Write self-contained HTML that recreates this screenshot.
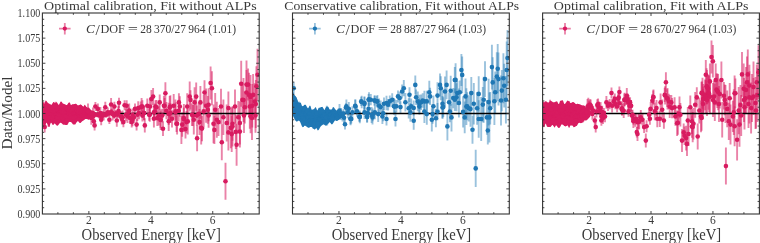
<!DOCTYPE html><html><head><meta charset="utf-8"><style>html,body{margin:0;padding:0;background:#fff;width:760px;height:243px;overflow:hidden}svg{display:block}text{font-family:"Liberation Serif",serif;fill:#383838}.t{opacity:0.999;will-change:opacity}</style></head><body><svg width="760" height="243" viewBox="0 0 760 243"><clipPath id="c0"><rect x="42.4" y="13.0" width="216.8" height="201.0"/></clipPath><g clip-path="url(#c0)"><g stroke="#d81b60" stroke-width="1.9" stroke-opacity="0.55" fill="none"><path d="M42.3 105.8V113.9M41.3 109.9h2.0"/><path d="M42.6 104.0V111.5M41.6 107.8h2.0"/><path d="M43.2 107.0V114.5M42.2 110.8h2.0"/><path d="M43.7 101.9V111.2M42.7 106.6h2.0"/><path d="M44.2 106.2V113.9M43.2 110.0h2.0"/><path d="M44.7 121.6V132.4M43.7 127.0h2.0"/><path d="M45.3 107.5V118.9M44.3 113.2h2.0"/><path d="M45.9 102.5V111.4M44.9 107.0h2.0"/><path d="M46.4 112.5V121.1M45.4 116.8h2.0"/><path d="M46.9 103.5V113.7M45.9 108.6h2.0"/><path d="M47.4 106.3V115.5M46.4 110.9h2.0"/><path d="M47.9 108.1V115.5M46.9 111.8h2.0"/><path d="M48.4 116.3V126.7M47.4 121.5h2.0"/><path d="M48.8 109.5V120.2M47.8 114.9h2.0"/><path d="M49.3 105.6V113.4M48.3 109.5h2.0"/><path d="M49.8 113.6V120.6M48.8 117.1h2.0"/><path d="M50.3 107.7V116.5M49.3 112.1h2.0"/><path d="M50.8 110.0V117.8M49.8 113.9h2.0"/><path d="M51.4 110.4V117.2M50.4 113.8h2.0"/><path d="M51.9 111.0V117.8M50.9 114.4h2.0"/><path d="M52.2 113.5V121.7M51.2 117.6h2.0"/><path d="M52.8 107.1V115.5M51.8 111.3h2.0"/><path d="M53.3 109.3V119.9M52.3 114.6h2.0"/><path d="M53.9 110.9V121.5M52.9 116.2h2.0"/><path d="M54.3 107.0V114.4M53.3 110.7h2.0"/><path d="M54.8 107.1V116.9M53.8 112.0h2.0"/><path d="M55.4 107.8V115.6M54.4 111.7h2.0"/><path d="M55.7 101.8V110.6M54.7 106.2h2.0"/><path d="M56.0 109.5V119.3M55.0 114.4h2.0"/><path d="M56.5 112.8V121.5M55.5 117.1h2.0"/><path d="M57.1 113.8V121.6M56.1 117.7h2.0"/><path d="M57.4 108.5V119.3M56.4 113.9h2.0"/><path d="M57.6 109.3V117.6M56.6 113.5h2.0"/><path d="M58.2 107.7V114.4M57.2 111.0h2.0"/><path d="M58.5 109.4V118.8M57.5 114.1h2.0"/><path d="M58.9 111.3V118.0M57.9 114.7h2.0"/><path d="M59.2 107.9V116.3M58.2 112.1h2.0"/><path d="M59.7 106.5V115.8M58.7 111.1h2.0"/><path d="M60.3 107.5V115.9M59.3 111.7h2.0"/><path d="M60.6 106.9V113.8M59.6 110.3h2.0"/><path d="M61.0 107.8V115.7M60.0 111.7h2.0"/><path d="M61.4 105.7V115.3M60.4 110.5h2.0"/><path d="M61.9 104.8V113.2M60.9 109.0h2.0"/><path d="M62.5 105.1V115.3M61.5 110.2h2.0"/><path d="M62.8 114.6V121.8M61.8 118.2h2.0"/><path d="M63.2 107.7V116.7M62.2 112.2h2.0"/><path d="M63.8 106.5V116.6M62.8 111.5h2.0"/><path d="M64.3 112.0V122.2M63.3 117.1h2.0"/><path d="M64.8 108.7V118.0M63.8 113.4h2.0"/><path d="M65.3 108.7V117.5M64.3 113.1h2.0"/><path d="M65.9 111.3V121.2M64.9 116.2h2.0"/><path d="M66.5 116.7V125.0M65.5 120.9h2.0"/><path d="M67.0 107.4V116.9M66.0 112.2h2.0"/><path d="M67.5 116.9V123.7M66.5 120.3h2.0"/><path d="M67.9 105.0V113.2M66.9 109.1h2.0"/><path d="M68.2 107.1V116.3M67.2 111.7h2.0"/><path d="M68.5 109.4V116.8M67.5 113.1h2.0"/><path d="M69.0 107.1V113.8M68.0 110.5h2.0"/><path d="M69.3 103.0V112.2M68.3 107.6h2.0"/><path d="M69.8 107.3V116.6M68.8 112.0h2.0"/><path d="M70.3 110.7V117.2M69.3 114.0h2.0"/><path d="M70.8 109.8V116.2M69.8 113.0h2.0"/><path d="M71.3 107.6V115.7M70.3 111.7h2.0"/><path d="M71.8 108.0V114.8M70.8 111.4h2.0"/><path d="M72.2 113.9V120.6M71.2 117.3h2.0"/><path d="M72.7 104.3V114.1M71.7 109.2h2.0"/><path d="M73.2 108.4V116.8M72.2 112.6h2.0"/><path d="M73.7 109.2V117.8M72.7 113.5h2.0"/><path d="M73.9 113.8V121.8M72.9 117.8h2.0"/><path d="M74.5 109.3V118.0M73.5 113.6h2.0"/><path d="M74.9 109.5V118.1M73.9 113.8h2.0"/><path d="M75.3 108.0V118.0M74.3 113.0h2.0"/><path d="M76.0 109.9V116.5M75.0 113.2h2.0"/><path d="M76.4 111.9V120.6M75.4 116.3h2.0"/><path d="M77.0 108.0V114.1M76.0 111.0h2.0"/><path d="M77.5 109.5V117.4M76.5 113.5h2.0"/><path d="M77.8 110.5V116.2M76.8 113.3h2.0"/><path d="M78.1 109.3V116.4M77.1 112.9h2.0"/><path d="M78.5 108.7V114.3M77.5 111.5h2.0"/><path d="M79.1 113.5V119.4M78.1 116.4h2.0"/><path d="M79.5 110.1V117.6M78.5 113.8h2.0"/><path d="M79.9 112.0V119.2M78.9 115.6h2.0"/><path d="M80.4 108.9V115.5M79.4 112.2h2.0"/><path d="M80.8 109.4V117.2M79.8 113.3h2.0"/><path d="M81.3 111.4V119.7M80.3 115.5h2.0"/><path d="M81.7 107.0V114.6M80.7 110.8h2.0"/><path d="M82.2 112.1V118.0M81.2 115.1h2.0"/><path d="M82.8 109.9V115.1M81.8 112.5h2.0"/><path d="M83.5 111.9V116.9M82.5 114.4h2.0"/><path d="M84.0 109.7V114.9M83.0 112.3h2.0"/><path d="M84.3 110.3V117.0M83.3 113.7h2.0"/><path d="M84.6 107.4V113.2M83.6 110.3h2.0"/><path d="M85.1 110.4V116.7M84.1 113.5h2.0"/><path d="M85.7 109.3V115.8M84.7 112.6h2.0"/><path d="M86.0 107.1V112.2M85.0 109.6h2.0"/><path d="M86.6 110.8V115.0M85.6 112.9h2.0"/><path d="M86.8 111.2V115.9M85.8 113.5h2.0"/><path d="M87.3 111.3V115.9M86.3 113.6h2.0"/><path d="M87.6 111.3V116.3M86.6 113.8h2.0"/><path d="M88.3 111.5V117.1M87.3 114.3h2.0"/><path d="M88.6 114.7V119.5M87.6 117.1h2.0"/><path d="M89.1 112.7V117.1M88.1 114.9h2.0"/><path d="M89.5 109.7V114.1M88.5 111.9h2.0"/><path d="M89.8 111.3V115.4M88.8 113.4h2.0"/><path d="M89.0 108.4V114.8M88.0 111.6h2.0"/><path d="M90.1 111.5V116.4M89.1 113.9h2.0"/><path d="M91.6 110.0V116.5M90.6 113.2h2.0"/><path d="M93.3 113.0V119.2M92.3 116.1h2.0"/><path d="M95.1 111.9V117.2M94.1 114.5h2.0"/><path d="M97.2 112.3V117.3M96.2 114.8h2.0"/><path d="M99.2 112.6V118.4M98.2 115.5h2.0"/><path d="M100.7 111.0V118.1M99.7 114.6h2.0"/><path d="M101.7 113.4V119.6M100.7 116.5h2.0"/><path d="M102.8 111.0V118.5M101.8 114.8h2.0"/><path d="M105.0 112.0V117.4M104.0 114.7h2.0"/><path d="M106.3 111.2V117.8M105.3 114.5h2.0"/><path d="M107.5 110.7V116.2M106.5 113.5h2.0"/><path d="M109.5 110.1V116.2M108.5 113.2h2.0"/><path d="M111.0 109.2V115.3M110.0 112.3h2.0"/><path d="M112.0 109.2V116.2M111.0 112.7h2.0"/><path d="M114.2 112.6V118.7M113.2 115.6h2.0"/><path d="M115.6 109.9V116.7M114.6 113.3h2.0"/><path d="M117.4 111.3V117.4M116.4 114.4h2.0"/><path d="M95.4 102.1V110.9M93.9 106.5h3.0"/><path d="M97.9 103.4V114.4M96.4 108.9h3.0"/><path d="M105.3 101.7V112.9M103.8 107.3h3.0"/><path d="M111.1 98.1V110.9M109.6 104.5h3.0"/><path d="M114.4 101.8V111.2M112.9 106.5h3.0"/><path d="M119.0 97.8V107.8M117.5 102.8h3.0"/><path d="M124.6 100.2V110.2M123.1 105.2h3.0"/><path d="M126.7 100.3V111.1M125.2 105.7h3.0"/><path d="M129.2 103.5V117.7M127.7 110.6h3.0"/><path d="M135.0 103.5V114.3M133.5 108.9h3.0"/><path d="M138.2 101.2V115.0M136.7 108.1h3.0"/><path d="M140.7 101.4V113.2M139.2 107.3h3.0"/><path d="M142.4 100.2V112.8M140.9 106.5h3.0"/><path d="M147.3 98.5V112.9M145.8 105.7h3.0"/><path d="M151.4 89.9V108.3M149.9 99.1h3.0"/><path d="M153.1 88.1V105.1M151.6 96.6h3.0"/><path d="M155.5 100.2V112.8M154.0 106.5h3.0"/><path d="M159.7 94.6V110.2M158.2 102.4h3.0"/><path d="M164.6 98.1V113.3M163.1 105.7h3.0"/><path d="M165.4 82.3V104.3M163.9 93.3h3.0"/><path d="M170.4 95.2V117.8M168.9 106.5h3.0"/><path d="M173.7 94.0V117.4M172.2 105.7h3.0"/><path d="M88.0 103.5V119.3M86.5 111.4h3.0"/><path d="M93.0 107.4V118.6M91.5 113.0h3.0"/><path d="M100.4 106.9V119.1M98.9 113.0h3.0"/><path d="M103.7 108.9V120.5M102.2 114.7h3.0"/><path d="M107.8 107.6V116.8M106.3 112.2h3.0"/><path d="M112.7 107.4V120.4M111.2 113.9h3.0"/><path d="M118.5 106.4V118.0M117.0 112.2h3.0"/><path d="M122.6 110.4V124.0M121.1 117.2h3.0"/><path d="M127.5 109.9V122.9M126.0 116.4h3.0"/><path d="M132.5 108.4V121.0M131.0 114.7h3.0"/><path d="M137.4 108.4V121.0M135.9 114.7h3.0"/><path d="M144.0 106.1V119.9M142.5 113.0h3.0"/><path d="M149.8 107.7V121.7M148.3 114.7h3.0"/><path d="M153.9 105.6V118.8M152.4 112.2h3.0"/><path d="M158.8 105.5V125.5M157.3 115.5h3.0"/><path d="M168.7 102.8V125.0M167.2 113.9h3.0"/><path d="M91.3 111.2V124.8M89.8 118.0h3.0"/><path d="M93.8 115.8V126.8M92.3 121.3h3.0"/><path d="M94.6 120.3V130.5M93.1 125.4h3.0"/><path d="M101.2 114.1V125.3M99.7 119.7h3.0"/><path d="M109.4 115.3V124.1M107.9 119.7h3.0"/><path d="M116.8 114.3V126.7M115.3 120.5h3.0"/><path d="M121.8 113.0V124.6M120.3 118.8h3.0"/><path d="M123.4 117.0V127.2M121.9 122.1h3.0"/><path d="M131.7 116.6V127.6M130.2 122.1h3.0"/><path d="M132.5 113.1V126.3M131.0 119.7h3.0"/><path d="M136.6 118.7V130.5M135.1 124.6h3.0"/><path d="M144.8 118.3V132.5M143.3 125.4h3.0"/><path d="M153.9 110.2V127.4M152.4 118.8h3.0"/><path d="M160.5 111.3V128.1M159.0 119.7h3.0"/><path d="M163.0 121.3V136.1M161.5 128.7h3.0"/><path d="M168.7 111.7V130.9M167.2 121.3h3.0"/><path d="M172.0 110.2V127.4M170.5 118.8h3.0"/><path d="M175.6 102.4V120.4M174.1 111.4h3.0"/><path d="M178.9 93.2V111.6M177.4 102.4h3.0"/><path d="M179.8 96.2V116.8M178.3 106.5h3.0"/><path d="M176.5 115.5V132.1M175.0 123.8h3.0"/><path d="M182.2 112.4V136.8M180.7 124.6h3.0"/><path d="M183.9 103.9V132.1M182.4 118.0h3.0"/><path d="M186.4 110.9V133.3M184.9 122.1h3.0"/><path d="M187.2 93.2V119.8M185.7 106.5h3.0"/><path d="M189.7 81.6V111.6M188.2 96.6h3.0"/><path d="M190.5 90.3V109.5M189.0 99.9h3.0"/><path d="M192.9 105.0V126.0M191.4 115.5h3.0"/><path d="M193.8 104.9V134.5M192.3 119.7h3.0"/><path d="M194.6 87.2V117.6M193.1 102.4h3.0"/><path d="M196.2 82.5V110.7M194.7 96.6h3.0"/><path d="M198.7 102.7V125.1M197.2 113.9h3.0"/><path d="M199.5 109.1V135.1M198.0 122.1h3.0"/><path d="M200.4 86.1V118.7M198.9 102.4h3.0"/><path d="M201.2 111.4V144.4M199.7 127.9h3.0"/><path d="M203.7 95.1V127.7M202.2 111.4h3.0"/><path d="M204.5 80.3V104.7M203.0 92.5h3.0"/><path d="M206.1 88.6V122.8M204.6 105.7h3.0"/><path d="M207.8 95.9V123.7M206.3 109.8h3.0"/><path d="M208.6 88.3V121.3M207.1 104.8h3.0"/><path d="M208.6 103.3V127.7M207.1 115.5h3.0"/><path d="M213.5 104.4V143.2M212.0 123.8h3.0"/><path d="M215.2 93.1V126.5M213.7 109.8h3.0"/><path d="M216.8 101.7V137.7M215.3 119.7h3.0"/><path d="M218.5 108.1V136.1M217.0 122.1h3.0"/><path d="M221.0 88.7V124.3M219.5 106.5h3.0"/><path d="M223.4 99.4V135.0M221.9 117.2h3.0"/><path d="M226.7 104.6V141.4M225.2 123.0h3.0"/><path d="M228.4 91.5V124.7M226.9 108.1h3.0"/><path d="M230.8 107.6V148.2M229.3 127.9h3.0"/><path d="M232.5 106.8V140.8M231.0 123.8h3.0"/><path d="M235.0 89.5V123.5M233.5 106.5h3.0"/><path d="M238.3 101.1V133.3M236.8 117.2h3.0"/><path d="M239.9 101.6V144.4M238.4 123.0h3.0"/><path d="M242.4 83.8V116.0M240.9 99.9h3.0"/><path d="M244.0 97.9V133.1M242.5 115.5h3.0"/><path d="M244.8 91.2V123.4M243.3 107.3h3.0"/><path d="M246.5 70.0V115.0M245.0 92.5h3.0"/><path d="M249.0 72.7V117.1M247.5 94.9h3.0"/><path d="M249.8 84.3V128.7M248.3 106.5h3.0"/><path d="M250.6 99.5V133.3M249.1 116.4h3.0"/><path d="M252.3 84.0V127.4M250.8 105.7h3.0"/><path d="M253.1 74.1V115.7M251.6 94.9h3.0"/><path d="M254.7 83.3V119.7M253.2 101.5h3.0"/><path d="M255.5 98.2V132.8M254.0 115.5h3.0"/><path d="M181.4 115.9V143.9M179.9 129.9h3.0"/><path d="M185.5 119.6V138.6M184.0 129.1h3.0"/><path d="M197.1 125.2V151.2M195.6 138.2h3.0"/><path d="M202.0 116.0V141.2M200.5 128.6h3.0"/><path d="M214.4 115.9V143.9M212.9 129.9h3.0"/><path d="M221.8 124.3V160.3M220.3 142.3h3.0"/><path d="M228.4 114.4V150.4M226.9 132.4h3.0"/><path d="M231.7 116.1V152.1M230.2 134.1h3.0"/><path d="M232.5 106.6V146.6M231.0 126.6h3.0"/><path d="M236.6 123.8V165.8M235.1 144.8h3.0"/><path d="M235.8 114.9V148.9M234.3 131.9h3.0"/><path d="M239.9 115.6V147.6M238.4 131.6h3.0"/><path d="M225.5 162.8V199.8M224.0 181.3h3.0"/><path d="M210.6 66.5V99.5M209.1 83.0h3.0"/><path d="M211.9 71.2V105.2M210.4 88.2h3.0"/><path d="M241.2 60.8V106.8M239.7 83.8h3.0"/><path d="M246.5 60.6V108.6M245.0 84.6h3.0"/><path d="M248.1 68.6V100.6M246.6 84.6h3.0"/><path d="M256.4 66.2V106.2M254.9 86.2h3.0"/><path d="M257.5 48.7V100.7M256.0 74.7h3.0"/><path d="M243.5 78.0V122.0M242.0 100.0h3.0"/><path d="M250.5 75.0V119.0M249.0 97.0h3.0"/><path d="M255.8 80.0V128.0M254.3 104.0h3.0"/><path d="M252.0 96.0V140.0M250.5 118.0h3.0"/><path d="M144.1 105.6V120.6M142.6 113.1h3.0"/><path d="M149.1 108.8V120.8M147.6 114.8h3.0"/><path d="M154.8 103.4V119.6M153.3 111.5h3.0"/><path d="M157.3 110.2V126.0M155.8 118.1h3.0"/><path d="M160.6 109.4V130.0M159.1 119.7h3.0"/><path d="M162.2 108.8V122.4M160.7 115.6h3.0"/><path d="M166.4 102.1V119.3M164.9 110.7h3.0"/><path d="M170.5 103.3V122.9M169.0 113.1h3.0"/><path d="M175.4 99.5V125.1M173.9 112.3h3.0"/><path d="M178.7 99.8V121.6M177.2 110.7h3.0"/><path d="M183.7 107.5V130.3M182.2 118.9h3.0"/><path d="M187.8 108.3V134.5M186.3 121.4h3.0"/><path d="M191.9 103.5V126.1M190.4 114.8h3.0"/><path d="M196.8 105.4V125.8M195.3 115.6h3.0"/><path d="M177.1 113.2V134.4M175.6 123.8h3.0"/><path d="M141.6 98.1V114.9M140.1 106.5h3.0"/><path d="M149.9 97.8V115.2M148.4 106.5h3.0"/><path d="M156.5 100.0V114.8M155.0 107.4h3.0"/><path d="M163.9 95.7V115.7M162.4 105.7h3.0"/><path d="M169.7 96.0V118.8M168.2 107.4h3.0"/><path d="M121.0 111.2V121.6M119.5 116.4h3.0"/><path d="M125.9 108.4V121.2M124.4 114.8h3.0"/><path d="M130.0 112.1V123.9M128.5 118.0h3.0"/><path d="M134.0 111.5V122.9M132.5 117.2h3.0"/><path d="M139.0 107.0V119.2M137.5 113.1h3.0"/><path d="M142.4 109.6V121.6M140.9 115.6h3.0"/><path d="M118.5 105.6V116.4M117.0 111.0h3.0"/><path d="M128.5 107.2V116.8M127.0 112.0h3.0"/></g><line x1="42.4" y1="113.50" x2="259.2" y2="113.50" stroke="#000" stroke-width="1.5"/><path d="M42.0 99.8 L42.4 99.9 L42.7 100.5 L43.0 101.4 L43.4 102.4 L43.8 103.3 L44.1 103.7 L44.5 103.6 L44.8 102.8 L45.1 101.7 L45.5 100.8 L45.9 100.5 L46.2 100.7 L46.5 101.0 L46.9 101.5 L47.2 102.0 L47.6 102.5 L48.0 103.0 L48.3 103.2 L48.6 103.3 L49.0 103.5 L49.4 103.8 L49.7 104.1 L50.0 104.2 L50.4 104.3 L50.8 104.6 L51.1 104.8 L51.5 104.7 L51.8 104.5 L52.1 104.0 L52.5 103.3 L52.9 102.7 L53.2 102.2 L53.5 101.9 L53.9 101.9 L54.2 102.2 L54.6 102.8 L55.0 103.0 L55.3 103.0 L55.6 102.7 L56.0 102.4 L56.4 102.2 L56.7 102.2 L57.0 102.5 L57.4 103.0 L57.8 103.7 L58.1 104.3 L58.5 104.7 L58.8 104.7 L59.1 104.4 L59.5 103.8 L59.9 103.0 L60.2 102.2 L60.5 101.7 L60.9 101.4 L61.2 101.5 L61.6 101.8 L62.0 102.2 L62.3 102.7 L62.6 103.2 L63.0 103.6 L63.4 103.8 L63.7 103.8 L64.0 103.9 L64.4 104.0 L64.8 104.2 L65.1 104.4 L65.5 104.6 L65.8 104.8 L66.2 104.9 L66.5 105.0 L66.8 105.0 L67.2 104.7 L67.5 104.3 L67.9 103.7 L68.2 103.2 L68.6 102.7 L69.0 102.4 L69.3 102.3 L69.7 102.6 L70.0 103.2 L70.3 104.0 L70.7 104.7 L71.0 105.0 L71.4 104.9 L71.8 104.8 L72.1 104.6 L72.5 104.4 L72.8 104.3 L73.2 104.3 L73.5 104.3 L73.8 104.2 L74.2 104.1 L74.5 104.0 L74.9 103.9 L75.2 103.8 L75.6 103.8 L76.0 103.8 L76.3 103.9 L76.7 104.2 L77.0 104.6 L77.3 105.0 L77.7 105.2 L78.0 105.3 L78.4 105.3 L78.8 105.2 L79.1 105.1 L79.5 104.9 L79.8 104.7 L80.2 104.6 L80.5 104.5 L80.8 104.6 L81.2 104.7 L81.5 105.0 L81.9 105.3 L82.2 105.7 L82.6 106.0 L83.0 106.3 L83.3 106.6 L83.7 106.5 L84.0 105.9 L84.3 105.1 L84.7 104.8 L85.0 105.0 L85.4 105.4 L85.8 105.9 L86.1 106.5 L86.5 107.0 L86.8 107.5 L87.2 107.8 L87.5 108.0 L87.8 108.0 L88.2 107.7 L88.5 107.4 L88.9 107.4 L89.2 107.8 L89.6 108.5 L90.0 109.2 L90.3 109.7 L90.3 117.6 L90.0 117.9 L89.6 118.5 L89.2 119.0 L88.9 119.2 L88.5 119.2 L88.2 118.9 L87.8 118.7 L87.5 118.7 L87.2 118.8 L86.8 118.9 L86.5 118.9 L86.1 118.9 L85.8 119.0 L85.4 119.1 L85.0 119.3 L84.7 119.6 L84.3 119.9 L84.0 120.1 L83.7 120.4 L83.3 120.6 L83.0 120.8 L82.6 121.0 L82.2 121.3 L81.9 121.6 L81.5 122.0 L81.2 122.3 L80.8 122.7 L80.5 122.9 L80.2 123.0 L79.8 123.0 L79.5 122.8 L79.1 122.4 L78.8 122.0 L78.4 121.6 L78.0 121.3 L77.7 121.2 L77.3 121.4 L77.0 121.7 L76.7 122.2 L76.3 122.7 L76.0 123.3 L75.6 123.9 L75.2 124.4 L74.9 124.6 L74.5 124.6 L74.2 124.6 L73.8 124.5 L73.5 124.4 L73.2 124.4 L72.8 124.2 L72.5 123.8 L72.1 123.3 L71.8 122.8 L71.4 122.4 L71.0 122.0 L70.7 121.9 L70.3 121.9 L70.0 121.9 L69.7 121.9 L69.3 121.8 L69.0 121.8 L68.6 122.1 L68.2 122.8 L67.9 123.7 L67.5 124.5 L67.2 124.9 L66.8 124.9 L66.5 124.9 L66.2 124.9 L65.8 124.9 L65.5 124.9 L65.1 124.8 L64.8 124.8 L64.4 124.8 L64.0 124.8 L63.7 124.8 L63.4 124.7 L63.0 124.5 L62.6 124.2 L62.3 123.9 L62.0 123.5 L61.6 123.2 L61.2 123.0 L60.9 122.8 L60.5 122.8 L60.2 122.9 L59.9 123.1 L59.5 123.5 L59.1 123.9 L58.8 124.4 L58.5 124.8 L58.1 125.2 L57.8 125.5 L57.4 125.7 L57.0 125.7 L56.7 125.5 L56.4 125.2 L56.0 124.8 L55.6 124.4 L55.3 124.0 L55.0 123.8 L54.6 123.6 L54.2 123.8 L53.9 124.2 L53.5 124.7 L53.2 125.0 L52.9 125.0 L52.5 124.7 L52.1 124.1 L51.8 123.5 L51.5 123.0 L51.1 122.7 L50.8 122.8 L50.4 123.7 L50.0 125.0 L49.7 126.3 L49.4 127.0 L49.0 127.0 L48.6 126.7 L48.3 126.0 L48.0 125.2 L47.6 124.3 L47.2 123.5 L46.9 122.9 L46.5 122.6 L46.2 122.8 L45.9 123.8 L45.5 125.1 L45.1 126.3 L44.8 127.0 L44.5 127.0 L44.1 126.7 L43.8 126.1 L43.4 125.4 L43.0 124.6 L42.7 123.8 L42.4 123.1 L42.0 122.7Z" fill="#d81b60"/><g fill="#d81b60"><circle cx="42.3" cy="109.9" r="2.3"/><circle cx="42.6" cy="107.8" r="2.3"/><circle cx="43.2" cy="110.8" r="2.3"/><circle cx="43.7" cy="106.6" r="2.3"/><circle cx="44.2" cy="110.0" r="2.3"/><circle cx="44.7" cy="127.0" r="2.3"/><circle cx="45.3" cy="113.2" r="2.3"/><circle cx="45.9" cy="107.0" r="2.3"/><circle cx="46.4" cy="116.8" r="2.3"/><circle cx="46.9" cy="108.6" r="2.3"/><circle cx="47.4" cy="110.9" r="2.3"/><circle cx="47.9" cy="111.8" r="2.3"/><circle cx="48.4" cy="121.5" r="2.3"/><circle cx="48.8" cy="114.9" r="2.3"/><circle cx="49.3" cy="109.5" r="2.3"/><circle cx="49.8" cy="117.1" r="2.3"/><circle cx="50.3" cy="112.1" r="2.3"/><circle cx="50.8" cy="113.9" r="2.3"/><circle cx="51.4" cy="113.8" r="2.3"/><circle cx="51.9" cy="114.4" r="2.3"/><circle cx="52.2" cy="117.6" r="2.3"/><circle cx="52.8" cy="111.3" r="2.3"/><circle cx="53.3" cy="114.6" r="2.3"/><circle cx="53.9" cy="116.2" r="2.3"/><circle cx="54.3" cy="110.7" r="2.3"/><circle cx="54.8" cy="112.0" r="2.3"/><circle cx="55.4" cy="111.7" r="2.3"/><circle cx="55.7" cy="106.2" r="2.3"/><circle cx="56.0" cy="114.4" r="2.3"/><circle cx="56.5" cy="117.1" r="2.3"/><circle cx="57.1" cy="117.7" r="2.3"/><circle cx="57.4" cy="113.9" r="2.3"/><circle cx="57.6" cy="113.5" r="2.3"/><circle cx="58.2" cy="111.0" r="2.3"/><circle cx="58.5" cy="114.1" r="2.3"/><circle cx="58.9" cy="114.7" r="2.3"/><circle cx="59.2" cy="112.1" r="2.3"/><circle cx="59.7" cy="111.1" r="2.3"/><circle cx="60.3" cy="111.7" r="2.3"/><circle cx="60.6" cy="110.3" r="2.3"/><circle cx="61.0" cy="111.7" r="2.3"/><circle cx="61.4" cy="110.5" r="2.3"/><circle cx="61.9" cy="109.0" r="2.3"/><circle cx="62.5" cy="110.2" r="2.3"/><circle cx="62.8" cy="118.2" r="2.3"/><circle cx="63.2" cy="112.2" r="2.3"/><circle cx="63.8" cy="111.5" r="2.3"/><circle cx="64.3" cy="117.1" r="2.3"/><circle cx="64.8" cy="113.4" r="2.3"/><circle cx="65.3" cy="113.1" r="2.3"/><circle cx="65.9" cy="116.2" r="2.3"/><circle cx="66.5" cy="120.9" r="2.3"/><circle cx="67.0" cy="112.2" r="2.3"/><circle cx="67.5" cy="120.3" r="2.3"/><circle cx="67.9" cy="109.1" r="2.3"/><circle cx="68.2" cy="111.7" r="2.3"/><circle cx="68.5" cy="113.1" r="2.3"/><circle cx="69.0" cy="110.5" r="2.3"/><circle cx="69.3" cy="107.6" r="2.3"/><circle cx="69.8" cy="112.0" r="2.3"/><circle cx="70.3" cy="114.0" r="2.3"/><circle cx="70.8" cy="113.0" r="2.3"/><circle cx="71.3" cy="111.7" r="2.3"/><circle cx="71.8" cy="111.4" r="2.3"/><circle cx="72.2" cy="117.3" r="2.3"/><circle cx="72.7" cy="109.2" r="2.3"/><circle cx="73.2" cy="112.6" r="2.3"/><circle cx="73.7" cy="113.5" r="2.3"/><circle cx="73.9" cy="117.8" r="2.3"/><circle cx="74.5" cy="113.6" r="2.3"/><circle cx="74.9" cy="113.8" r="2.3"/><circle cx="75.3" cy="113.0" r="2.3"/><circle cx="76.0" cy="113.2" r="2.3"/><circle cx="76.4" cy="116.3" r="2.3"/><circle cx="77.0" cy="111.0" r="2.3"/><circle cx="77.5" cy="113.5" r="2.3"/><circle cx="77.8" cy="113.3" r="2.3"/><circle cx="78.1" cy="112.9" r="2.3"/><circle cx="78.5" cy="111.5" r="2.3"/><circle cx="79.1" cy="116.4" r="2.3"/><circle cx="79.5" cy="113.8" r="2.3"/><circle cx="79.9" cy="115.6" r="2.3"/><circle cx="80.4" cy="112.2" r="2.3"/><circle cx="80.8" cy="113.3" r="2.3"/><circle cx="81.3" cy="115.5" r="2.3"/><circle cx="81.7" cy="110.8" r="2.3"/><circle cx="82.2" cy="115.1" r="2.3"/><circle cx="82.8" cy="112.5" r="2.3"/><circle cx="83.5" cy="114.4" r="2.3"/><circle cx="84.0" cy="112.3" r="2.3"/><circle cx="84.3" cy="113.7" r="2.3"/><circle cx="84.6" cy="110.3" r="2.3"/><circle cx="85.1" cy="113.5" r="2.3"/><circle cx="85.7" cy="112.6" r="2.3"/><circle cx="86.0" cy="109.6" r="2.3"/><circle cx="86.6" cy="112.9" r="2.3"/><circle cx="86.8" cy="113.5" r="2.3"/><circle cx="87.3" cy="113.6" r="2.3"/><circle cx="87.6" cy="113.8" r="2.3"/><circle cx="88.3" cy="114.3" r="2.3"/><circle cx="88.6" cy="117.1" r="2.3"/><circle cx="89.1" cy="114.9" r="2.3"/><circle cx="89.5" cy="111.9" r="2.3"/><circle cx="89.8" cy="113.4" r="2.3"/><circle cx="89.0" cy="111.6" r="2.3"/><circle cx="90.1" cy="113.9" r="2.3"/><circle cx="91.6" cy="113.2" r="2.3"/><circle cx="93.3" cy="116.1" r="2.3"/><circle cx="95.1" cy="114.5" r="2.3"/><circle cx="97.2" cy="114.8" r="2.3"/><circle cx="99.2" cy="115.5" r="2.3"/><circle cx="100.7" cy="114.6" r="2.3"/><circle cx="101.7" cy="116.5" r="2.3"/><circle cx="102.8" cy="114.8" r="2.3"/><circle cx="105.0" cy="114.7" r="2.3"/><circle cx="106.3" cy="114.5" r="2.3"/><circle cx="107.5" cy="113.5" r="2.3"/><circle cx="109.5" cy="113.2" r="2.3"/><circle cx="111.0" cy="112.3" r="2.3"/><circle cx="112.0" cy="112.7" r="2.3"/><circle cx="114.2" cy="115.6" r="2.3"/><circle cx="115.6" cy="113.3" r="2.3"/><circle cx="117.4" cy="114.4" r="2.3"/><circle cx="95.4" cy="106.5" r="2.3"/><circle cx="97.9" cy="108.9" r="2.3"/><circle cx="105.3" cy="107.3" r="2.3"/><circle cx="111.1" cy="104.5" r="2.3"/><circle cx="114.4" cy="106.5" r="2.3"/><circle cx="119.0" cy="102.8" r="2.3"/><circle cx="124.6" cy="105.2" r="2.3"/><circle cx="126.7" cy="105.7" r="2.3"/><circle cx="129.2" cy="110.6" r="2.3"/><circle cx="135.0" cy="108.9" r="2.3"/><circle cx="138.2" cy="108.1" r="2.3"/><circle cx="140.7" cy="107.3" r="2.3"/><circle cx="142.4" cy="106.5" r="2.3"/><circle cx="147.3" cy="105.7" r="2.3"/><circle cx="151.4" cy="99.1" r="2.3"/><circle cx="153.1" cy="96.6" r="2.3"/><circle cx="155.5" cy="106.5" r="2.3"/><circle cx="159.7" cy="102.4" r="2.3"/><circle cx="164.6" cy="105.7" r="2.3"/><circle cx="165.4" cy="93.3" r="2.3"/><circle cx="170.4" cy="106.5" r="2.3"/><circle cx="173.7" cy="105.7" r="2.3"/><circle cx="88.0" cy="111.4" r="2.3"/><circle cx="93.0" cy="113.0" r="2.3"/><circle cx="100.4" cy="113.0" r="2.3"/><circle cx="103.7" cy="114.7" r="2.3"/><circle cx="107.8" cy="112.2" r="2.3"/><circle cx="112.7" cy="113.9" r="2.3"/><circle cx="118.5" cy="112.2" r="2.3"/><circle cx="122.6" cy="117.2" r="2.3"/><circle cx="127.5" cy="116.4" r="2.3"/><circle cx="132.5" cy="114.7" r="2.3"/><circle cx="137.4" cy="114.7" r="2.3"/><circle cx="144.0" cy="113.0" r="2.3"/><circle cx="149.8" cy="114.7" r="2.3"/><circle cx="153.9" cy="112.2" r="2.3"/><circle cx="158.8" cy="115.5" r="2.3"/><circle cx="168.7" cy="113.9" r="2.3"/><circle cx="91.3" cy="118.0" r="2.3"/><circle cx="93.8" cy="121.3" r="2.3"/><circle cx="94.6" cy="125.4" r="2.3"/><circle cx="101.2" cy="119.7" r="2.3"/><circle cx="109.4" cy="119.7" r="2.3"/><circle cx="116.8" cy="120.5" r="2.3"/><circle cx="121.8" cy="118.8" r="2.3"/><circle cx="123.4" cy="122.1" r="2.3"/><circle cx="131.7" cy="122.1" r="2.3"/><circle cx="132.5" cy="119.7" r="2.3"/><circle cx="136.6" cy="124.6" r="2.3"/><circle cx="144.8" cy="125.4" r="2.3"/><circle cx="153.9" cy="118.8" r="2.3"/><circle cx="160.5" cy="119.7" r="2.3"/><circle cx="163.0" cy="128.7" r="2.3"/><circle cx="168.7" cy="121.3" r="2.3"/><circle cx="172.0" cy="118.8" r="2.3"/><circle cx="175.6" cy="111.4" r="2.3"/><circle cx="178.9" cy="102.4" r="2.3"/><circle cx="179.8" cy="106.5" r="2.3"/><circle cx="176.5" cy="123.8" r="2.3"/><circle cx="182.2" cy="124.6" r="2.3"/><circle cx="183.9" cy="118.0" r="2.3"/><circle cx="186.4" cy="122.1" r="2.3"/><circle cx="187.2" cy="106.5" r="2.3"/><circle cx="189.7" cy="96.6" r="2.3"/><circle cx="190.5" cy="99.9" r="2.3"/><circle cx="192.9" cy="115.5" r="2.3"/><circle cx="193.8" cy="119.7" r="2.3"/><circle cx="194.6" cy="102.4" r="2.3"/><circle cx="196.2" cy="96.6" r="2.3"/><circle cx="198.7" cy="113.9" r="2.3"/><circle cx="199.5" cy="122.1" r="2.3"/><circle cx="200.4" cy="102.4" r="2.3"/><circle cx="201.2" cy="127.9" r="2.3"/><circle cx="203.7" cy="111.4" r="2.3"/><circle cx="204.5" cy="92.5" r="2.3"/><circle cx="206.1" cy="105.7" r="2.3"/><circle cx="207.8" cy="109.8" r="2.3"/><circle cx="208.6" cy="104.8" r="2.3"/><circle cx="208.6" cy="115.5" r="2.3"/><circle cx="213.5" cy="123.8" r="2.3"/><circle cx="215.2" cy="109.8" r="2.3"/><circle cx="216.8" cy="119.7" r="2.3"/><circle cx="218.5" cy="122.1" r="2.3"/><circle cx="221.0" cy="106.5" r="2.3"/><circle cx="223.4" cy="117.2" r="2.3"/><circle cx="226.7" cy="123.0" r="2.3"/><circle cx="228.4" cy="108.1" r="2.3"/><circle cx="230.8" cy="127.9" r="2.3"/><circle cx="232.5" cy="123.8" r="2.3"/><circle cx="235.0" cy="106.5" r="2.3"/><circle cx="238.3" cy="117.2" r="2.3"/><circle cx="239.9" cy="123.0" r="2.3"/><circle cx="242.4" cy="99.9" r="2.3"/><circle cx="244.0" cy="115.5" r="2.3"/><circle cx="244.8" cy="107.3" r="2.3"/><circle cx="246.5" cy="92.5" r="2.3"/><circle cx="249.0" cy="94.9" r="2.3"/><circle cx="249.8" cy="106.5" r="2.3"/><circle cx="250.6" cy="116.4" r="2.3"/><circle cx="252.3" cy="105.7" r="2.3"/><circle cx="253.1" cy="94.9" r="2.3"/><circle cx="254.7" cy="101.5" r="2.3"/><circle cx="255.5" cy="115.5" r="2.3"/><circle cx="181.4" cy="129.9" r="2.3"/><circle cx="185.5" cy="129.1" r="2.3"/><circle cx="197.1" cy="138.2" r="2.3"/><circle cx="202.0" cy="128.6" r="2.3"/><circle cx="214.4" cy="129.9" r="2.3"/><circle cx="221.8" cy="142.3" r="2.3"/><circle cx="228.4" cy="132.4" r="2.3"/><circle cx="231.7" cy="134.1" r="2.3"/><circle cx="232.5" cy="126.6" r="2.3"/><circle cx="236.6" cy="144.8" r="2.3"/><circle cx="235.8" cy="131.9" r="2.3"/><circle cx="239.9" cy="131.6" r="2.3"/><circle cx="225.5" cy="181.3" r="2.3"/><circle cx="210.6" cy="83.0" r="2.3"/><circle cx="211.9" cy="88.2" r="2.3"/><circle cx="241.2" cy="83.8" r="2.3"/><circle cx="246.5" cy="84.6" r="2.3"/><circle cx="248.1" cy="84.6" r="2.3"/><circle cx="256.4" cy="86.2" r="2.3"/><circle cx="257.5" cy="74.7" r="2.3"/><circle cx="243.5" cy="100.0" r="2.3"/><circle cx="250.5" cy="97.0" r="2.3"/><circle cx="255.8" cy="104.0" r="2.3"/><circle cx="252.0" cy="118.0" r="2.3"/><circle cx="144.1" cy="113.1" r="2.3"/><circle cx="149.1" cy="114.8" r="2.3"/><circle cx="154.8" cy="111.5" r="2.3"/><circle cx="157.3" cy="118.1" r="2.3"/><circle cx="160.6" cy="119.7" r="2.3"/><circle cx="162.2" cy="115.6" r="2.3"/><circle cx="166.4" cy="110.7" r="2.3"/><circle cx="170.5" cy="113.1" r="2.3"/><circle cx="175.4" cy="112.3" r="2.3"/><circle cx="178.7" cy="110.7" r="2.3"/><circle cx="183.7" cy="118.9" r="2.3"/><circle cx="187.8" cy="121.4" r="2.3"/><circle cx="191.9" cy="114.8" r="2.3"/><circle cx="196.8" cy="115.6" r="2.3"/><circle cx="177.1" cy="123.8" r="2.3"/><circle cx="141.6" cy="106.5" r="2.3"/><circle cx="149.9" cy="106.5" r="2.3"/><circle cx="156.5" cy="107.4" r="2.3"/><circle cx="163.9" cy="105.7" r="2.3"/><circle cx="169.7" cy="107.4" r="2.3"/><circle cx="121.0" cy="116.4" r="2.3"/><circle cx="125.9" cy="114.8" r="2.3"/><circle cx="130.0" cy="118.0" r="2.3"/><circle cx="134.0" cy="117.2" r="2.3"/><circle cx="139.0" cy="113.1" r="2.3"/><circle cx="142.4" cy="115.6" r="2.3"/><circle cx="118.5" cy="111.0" r="2.3"/><circle cx="128.5" cy="112.0" r="2.3"/></g></g><rect x="42.4" y="13.0" width="216.8" height="201.0" fill="none" stroke="#333" stroke-width="1.1"/><path d="M57.89 214.0v-1.8M57.89 13.0v1.8M73.37 214.0v-1.8M73.37 13.0v1.8M88.86 214.0v-3.0M88.86 13.0v3.0M104.34 214.0v-1.8M104.34 13.0v1.8M119.83 214.0v-1.8M119.83 13.0v1.8M135.31 214.0v-1.8M135.31 13.0v1.8M150.80 214.0v-3.0M150.80 13.0v3.0M166.29 214.0v-1.8M166.29 13.0v1.8M181.77 214.0v-1.8M181.77 13.0v1.8M197.26 214.0v-1.8M197.26 13.0v1.8M212.74 214.0v-3.0M212.74 13.0v3.0M228.23 214.0v-1.8M228.23 13.0v1.8M243.71 214.0v-1.8M243.71 13.0v1.8M42.4 207.72h1.8M259.2 207.72h-1.8M42.4 201.44h1.8M259.2 201.44h-1.8M42.4 195.16h1.8M259.2 195.16h-1.8M42.4 188.88h3.0M259.2 188.88h-3.0M42.4 182.59h1.8M259.2 182.59h-1.8M42.4 176.31h1.8M259.2 176.31h-1.8M42.4 170.03h1.8M259.2 170.03h-1.8M42.4 163.75h3.0M259.2 163.75h-3.0M42.4 157.47h1.8M259.2 157.47h-1.8M42.4 151.19h1.8M259.2 151.19h-1.8M42.4 144.91h1.8M259.2 144.91h-1.8M42.4 138.62h3.0M259.2 138.62h-3.0M42.4 132.34h1.8M259.2 132.34h-1.8M42.4 126.06h1.8M259.2 126.06h-1.8M42.4 119.78h1.8M259.2 119.78h-1.8M42.4 113.50h3.0M259.2 113.50h-3.0M42.4 107.22h1.8M259.2 107.22h-1.8M42.4 100.94h1.8M259.2 100.94h-1.8M42.4 94.66h1.8M259.2 94.66h-1.8M42.4 88.38h3.0M259.2 88.38h-3.0M42.4 82.09h1.8M259.2 82.09h-1.8M42.4 75.81h1.8M259.2 75.81h-1.8M42.4 69.53h1.8M259.2 69.53h-1.8M42.4 63.25h3.0M259.2 63.25h-3.0M42.4 56.97h1.8M259.2 56.97h-1.8M42.4 50.69h1.8M259.2 50.69h-1.8M42.4 44.41h1.8M259.2 44.41h-1.8M42.4 38.13h3.0M259.2 38.13h-3.0M42.4 31.84h1.8M259.2 31.84h-1.8M42.4 25.56h1.8M259.2 25.56h-1.8M42.4 19.28h1.8M259.2 19.28h-1.8" stroke="#333" stroke-width="0.9" fill="none"/><path d="M59.0 28.6h11.6M64.8 22.900000000000002v11.7" stroke="#d81b60" stroke-width="1.8" stroke-opacity="0.55"/><circle cx="64.8" cy="28.6" r="2.15" fill="#d81b60"/><clipPath id="c1"><rect x="292.5" y="13.0" width="216.8" height="201.0"/></clipPath><g clip-path="url(#c1)"><g stroke="#1f77b4" stroke-width="1.9" stroke-opacity="0.45" fill="none"><path d="M292.3 99.9V108.3M291.3 104.1h2.0"/><path d="M292.7 99.8V108.6M291.7 104.2h2.0"/><path d="M293.3 98.5V108.6M292.3 103.6h2.0"/><path d="M293.7 99.1V108.8M292.7 104.0h2.0"/><path d="M294.1 102.6V111.9M293.1 107.2h2.0"/><path d="M294.6 103.9V114.0M293.6 108.9h2.0"/><path d="M294.9 100.2V111.3M293.9 105.8h2.0"/><path d="M295.4 97.4V105.3M294.4 101.4h2.0"/><path d="M295.9 110.0V118.6M294.9 114.3h2.0"/><path d="M296.4 107.2V116.1M295.4 111.6h2.0"/><path d="M296.9 105.0V114.1M295.9 109.5h2.0"/><path d="M297.3 106.0V116.5M296.3 111.2h2.0"/><path d="M297.7 102.2V112.2M296.7 107.2h2.0"/><path d="M298.0 107.0V115.3M297.0 111.2h2.0"/><path d="M298.4 107.4V114.3M297.4 110.8h2.0"/><path d="M298.9 101.4V108.8M297.9 105.1h2.0"/><path d="M299.4 111.7V120.8M298.4 116.2h2.0"/><path d="M299.8 110.3V117.5M298.8 113.9h2.0"/><path d="M300.4 110.1V116.9M299.4 113.5h2.0"/><path d="M301.0 109.7V119.2M300.0 114.5h2.0"/><path d="M301.4 109.9V118.9M300.4 114.4h2.0"/><path d="M301.9 111.3V119.6M300.9 115.5h2.0"/><path d="M302.3 111.3V118.1M301.3 114.7h2.0"/><path d="M302.7 114.0V121.7M301.7 117.9h2.0"/><path d="M303.2 114.2V122.8M302.2 118.5h2.0"/><path d="M303.6 107.7V115.9M302.6 111.8h2.0"/><path d="M304.0 107.0V114.1M303.0 110.6h2.0"/><path d="M304.5 105.4V114.0M303.5 109.7h2.0"/><path d="M305.0 114.7V123.8M304.0 119.2h2.0"/><path d="M305.5 107.3V116.6M304.5 112.0h2.0"/><path d="M306.1 110.7V118.2M305.1 114.5h2.0"/><path d="M306.7 108.7V116.5M305.7 112.6h2.0"/><path d="M307.2 115.8V125.6M306.2 120.7h2.0"/><path d="M307.5 107.7V115.0M306.5 111.3h2.0"/><path d="M307.9 112.7V120.8M306.9 116.7h2.0"/><path d="M308.2 115.3V122.6M307.2 119.0h2.0"/><path d="M308.8 113.9V120.9M307.8 117.4h2.0"/><path d="M309.4 108.7V118.2M308.4 113.5h2.0"/><path d="M309.7 109.5V119.1M308.7 114.3h2.0"/><path d="M310.1 114.9V125.5M309.1 120.2h2.0"/><path d="M310.5 112.8V120.0M309.5 116.4h2.0"/><path d="M311.0 119.1V126.0M310.0 122.6h2.0"/><path d="M311.5 113.2V122.0M310.5 117.6h2.0"/><path d="M311.9 117.4V124.4M310.9 120.9h2.0"/><path d="M312.4 114.9V121.9M311.4 118.4h2.0"/><path d="M312.8 117.1V123.7M311.8 120.4h2.0"/><path d="M313.4 119.2V128.7M312.4 124.0h2.0"/><path d="M313.9 117.0V123.5M312.9 120.2h2.0"/><path d="M314.4 118.3V127.6M313.4 122.9h2.0"/><path d="M314.7 116.3V123.2M313.7 119.7h2.0"/><path d="M315.2 116.1V124.9M314.2 120.5h2.0"/><path d="M315.8 115.2V123.5M314.8 119.4h2.0"/><path d="M316.1 115.1V123.7M315.1 119.4h2.0"/><path d="M316.4 109.8V116.8M315.4 113.3h2.0"/><path d="M316.8 112.9V121.8M315.8 117.3h2.0"/><path d="M317.4 114.8V124.3M316.4 119.5h2.0"/><path d="M318.0 120.4V127.5M317.0 124.0h2.0"/><path d="M318.6 114.6V124.5M317.6 119.5h2.0"/><path d="M319.1 113.9V123.9M318.1 118.9h2.0"/><path d="M319.6 114.6V123.5M318.6 119.0h2.0"/><path d="M320.0 114.7V122.1M319.0 118.4h2.0"/><path d="M320.4 111.1V118.4M319.4 114.8h2.0"/><path d="M320.9 114.3V120.6M319.9 117.5h2.0"/><path d="M321.4 111.5V119.9M320.4 115.7h2.0"/><path d="M321.7 113.0V119.1M320.7 116.1h2.0"/><path d="M322.2 112.9V121.0M321.2 116.9h2.0"/><path d="M322.7 112.3V120.9M321.7 116.6h2.0"/><path d="M323.1 113.8V120.4M322.1 117.1h2.0"/><path d="M323.6 113.7V118.9M322.6 116.3h2.0"/><path d="M324.2 111.9V117.3M323.2 114.6h2.0"/><path d="M324.5 112.6V119.1M323.5 115.8h2.0"/><path d="M324.8 116.4V123.1M323.8 119.7h2.0"/><path d="M325.3 116.0V123.5M324.3 119.8h2.0"/><path d="M325.9 116.8V124.9M324.9 120.8h2.0"/><path d="M326.2 113.3V121.1M325.2 117.2h2.0"/><path d="M326.8 105.8V114.9M325.8 110.3h2.0"/><path d="M327.2 117.2V125.6M326.2 121.4h2.0"/><path d="M327.5 110.0V116.8M326.5 113.4h2.0"/><path d="M328.0 108.3V115.7M327.0 112.0h2.0"/><path d="M328.3 108.7V116.6M327.3 112.7h2.0"/><path d="M328.8 112.6V120.0M327.8 116.3h2.0"/><path d="M329.3 111.7V117.8M328.3 114.7h2.0"/><path d="M329.8 115.1V119.3M328.8 117.2h2.0"/><path d="M330.2 112.6V117.2M329.2 114.9h2.0"/><path d="M330.7 114.8V119.5M329.7 117.2h2.0"/><path d="M330.9 112.0V117.6M329.9 114.8h2.0"/><path d="M331.4 117.3V122.6M330.4 119.9h2.0"/><path d="M331.7 113.8V121.1M330.7 117.5h2.0"/><path d="M332.2 116.1V121.3M331.2 118.7h2.0"/><path d="M332.6 111.2V117.5M331.6 114.3h2.0"/><path d="M333.1 112.1V119.3M332.1 115.7h2.0"/><path d="M333.4 108.0V114.3M332.4 111.2h2.0"/><path d="M333.8 110.0V116.2M332.8 113.1h2.0"/><path d="M334.3 112.6V117.0M333.3 114.8h2.0"/><path d="M334.8 109.5V114.9M333.8 112.2h2.0"/><path d="M335.4 110.9V116.3M334.4 113.6h2.0"/><path d="M335.8 112.9V117.5M334.8 115.2h2.0"/><path d="M336.2 113.5V117.9M335.2 115.7h2.0"/><path d="M336.9 113.6V118.5M335.9 116.1h2.0"/><path d="M337.4 114.2V118.7M336.4 116.4h2.0"/><path d="M337.7 110.9V115.4M336.7 113.2h2.0"/><path d="M338.2 114.9V119.2M337.2 117.0h2.0"/><path d="M338.7 110.4V115.4M337.7 112.9h2.0"/><path d="M339.2 111.8V115.5M338.2 113.6h2.0"/><path d="M339.6 113.3V117.6M338.6 115.5h2.0"/><path d="M339.9 111.2V115.0M338.9 113.1h2.0"/><path d="M340.5 114.5V117.5M339.5 116.0h2.0"/><path d="M340.8 114.1V117.0M339.8 115.6h2.0"/><path d="M341.2 113.7V115.7M340.2 114.7h2.0"/><path d="M341.5 113.0V115.2M340.5 114.1h2.0"/><path d="M342.1 113.3V115.5M341.1 114.4h2.0"/><path d="M293.7 82.2V94.2M292.2 88.2h3.0"/><path d="M346.4 99.6V113.2M344.9 106.4h3.0"/><path d="M348.8 101.9V115.7M347.3 108.8h3.0"/><path d="M355.4 99.4V113.4M353.9 106.4h3.0"/><path d="M361.2 96.7V106.1M359.7 101.4h3.0"/><path d="M364.5 96.7V109.3M363.0 103.0h3.0"/><path d="M368.6 93.9V105.7M367.1 99.8h3.0"/><path d="M368.6 102.6V115.0M367.1 108.8h3.0"/><path d="M374.4 95.5V105.7M372.9 100.6h3.0"/><path d="M376.8 96.0V106.8M375.3 101.4h3.0"/><path d="M367.8 107.0V119.0M366.3 113.0h3.0"/><path d="M359.5 111.9V122.1M358.0 117.0h3.0"/><path d="M350.5 113.1V124.3M349.0 118.7h3.0"/><path d="M351.3 114.6V123.4M349.8 119.0h3.0"/><path d="M359.5 111.8V121.2M358.0 116.5h3.0"/><path d="M364.5 105.7V119.1M363.0 112.4h3.0"/><path d="M367.0 110.6V122.4M365.5 116.5h3.0"/><path d="M372.7 108.6V121.2M371.2 114.9h3.0"/><path d="M344.0 111.6V124.0M342.5 117.8h3.0"/><path d="M345.0 119.1V129.5M343.5 124.3h3.0"/><path d="M345.9 103.3V111.9M344.4 107.6h3.0"/><path d="M350.6 112.2V125.2M349.1 118.7h3.0"/><path d="M355.2 99.6V111.8M353.7 105.7h3.0"/><path d="M359.8 110.5V123.3M358.3 116.9h3.0"/><path d="M361.7 95.7V108.3M360.2 102.0h3.0"/><path d="M364.4 96.4V111.4M362.9 103.9h3.0"/><path d="M367.2 111.2V122.6M365.7 116.9h3.0"/><path d="M369.0 92.3V106.3M367.5 99.3h3.0"/><path d="M357.0 105.8V116.8M355.5 111.3h3.0"/><path d="M352.4 106.2V118.2M350.9 112.2h3.0"/><path d="M347.8 106.1V118.3M346.3 112.2h3.0"/><path d="M370.8 94.1V105.3M369.3 99.7h3.0"/><path d="M374.9 95.5V105.5M373.4 100.5h3.0"/><path d="M377.4 95.1V107.7M375.9 101.4h3.0"/><path d="M379.1 98.4V112.6M377.6 105.5h3.0"/><path d="M380.7 100.4V113.8M379.2 107.1h3.0"/><path d="M384.0 97.4V110.2M382.5 103.8h3.0"/><path d="M386.5 95.8V110.2M385.0 103.0h3.0"/><path d="M388.1 98.9V110.5M386.6 104.7h3.0"/><path d="M389.8 95.6V107.2M388.3 101.4h3.0"/><path d="M392.2 93.2V106.2M390.7 99.7h3.0"/><path d="M393.9 97.9V114.7M392.4 106.3h3.0"/><path d="M396.4 100.1V112.5M394.9 106.3h3.0"/><path d="M398.0 90.4V102.4M396.5 96.4h3.0"/><path d="M399.7 92.0V104.2M398.2 98.1h3.0"/><path d="M400.5 101.2V113.0M399.0 107.1h3.0"/><path d="M402.1 84.6V98.4M400.6 91.5h3.0"/><path d="M403.8 80.1V96.3M402.3 88.2h3.0"/><path d="M405.4 93.0V111.4M403.9 102.2h3.0"/><path d="M409.5 87.3V102.3M408.0 94.8h3.0"/><path d="M411.2 98.5V114.1M409.7 106.3h3.0"/><path d="M413.7 100.4V115.6M412.2 108.0h3.0"/><path d="M415.3 75.4V94.4M413.8 84.9h3.0"/><path d="M416.1 89.4V105.0M414.6 97.2h3.0"/><path d="M417.8 91.5V111.3M416.3 101.4h3.0"/><path d="M419.4 94.8V112.8M417.9 103.8h3.0"/><path d="M421.1 94.4V110.0M419.6 102.2h3.0"/><path d="M422.7 93.2V107.8M421.2 100.5h3.0"/><path d="M424.4 90.8V112.0M422.9 101.4h3.0"/><path d="M426.8 90.8V112.0M425.3 101.4h3.0"/><path d="M429.3 80.8V103.8M427.8 92.3h3.0"/><path d="M430.1 87.7V105.1M428.6 96.4h3.0"/><path d="M433.4 95.6V117.0M431.9 106.3h3.0"/><path d="M437.5 82.3V108.9M436.0 95.6h3.0"/><path d="M440.0 73.4V96.4M438.5 84.9h3.0"/><path d="M440.8 76.2V100.2M439.3 88.2h3.0"/><path d="M442.5 89.5V118.1M441.0 103.8h3.0"/><path d="M443.3 97.3V116.9M441.8 107.1h3.0"/><path d="M445.0 76.6V106.4M443.5 91.5h3.0"/><path d="M446.6 70.5V99.3M445.1 84.9h3.0"/><path d="M450.7 75.7V105.7M449.2 90.7h3.0"/><path d="M453.2 87.9V108.3M451.7 98.1h3.0"/><path d="M454.8 67.1V92.9M453.3 80.0h3.0"/><path d="M449.1 92.6V111.8M447.6 102.2h3.0"/><path d="M371.6 106.9V122.9M370.1 114.9h3.0"/><path d="M372.5 110.2V124.6M371.0 117.4h3.0"/><path d="M374.9 105.5V119.3M373.4 112.4h3.0"/><path d="M378.2 106.2V122.0M376.7 114.1h3.0"/><path d="M382.4 109.0V124.0M380.9 116.5h3.0"/><path d="M383.2 105.2V121.2M381.7 113.2h3.0"/><path d="M386.5 112.4V125.6M385.0 119.0h3.0"/><path d="M395.5 111.6V126.4M394.0 119.0h3.0"/><path d="M394.7 99.2V114.0M393.2 106.6h3.0"/><path d="M408.7 98.2V118.4M407.2 108.3h3.0"/><path d="M410.4 103.1V121.7M408.9 112.4h3.0"/><path d="M413.7 111.7V129.7M412.2 120.7h3.0"/><path d="M419.4 98.5V114.7M417.9 106.6h3.0"/><path d="M424.4 100.2V123.0M422.9 111.6h3.0"/><path d="M426.8 103.4V124.8M425.3 114.1h3.0"/><path d="M432.6 104.4V123.8M431.1 114.1h3.0"/><path d="M431.8 108.2V131.4M430.3 119.8h3.0"/><path d="M435.9 109.1V127.3M434.4 118.2h3.0"/><path d="M437.5 102.9V120.3M436.0 111.6h3.0"/><path d="M442.5 96.0V119.0M441.0 107.5h3.0"/><path d="M447.4 112.4V140.4M445.9 126.4h3.0"/><path d="M449.9 100.9V122.3M448.4 111.6h3.0"/><path d="M451.5 103.4V131.4M450.0 117.4h3.0"/><path d="M455.6 63.3V96.5M454.1 79.9h3.0"/><path d="M461.4 54.0V86.0M459.9 70.0h3.0"/><path d="M462.2 56.6V93.2M460.7 74.9h3.0"/><path d="M457.3 81.1V105.1M455.8 93.1h3.0"/><path d="M459.8 80.6V103.8M458.3 92.2h3.0"/><path d="M456.5 83.2V111.2M455.0 97.2h3.0"/><path d="M454.8 88.5V110.9M453.3 99.7h3.0"/><path d="M458.9 88.4V117.6M457.4 103.0h3.0"/><path d="M465.5 78.4V114.4M464.0 96.4h3.0"/><path d="M467.2 92.2V120.2M465.7 106.2h3.0"/><path d="M471.3 77.0V109.2M469.8 93.1h3.0"/><path d="M473.8 83.1V124.5M472.3 103.8h3.0"/><path d="M478.7 76.2V111.6M477.2 93.9h3.0"/><path d="M482.8 87.0V122.2M481.3 104.6h3.0"/><path d="M483.7 76.7V122.7M482.2 99.7h3.0"/><path d="M485.0 61.3V96.9M483.5 79.1h3.0"/><path d="M488.6 78.7V125.5M487.1 102.1h3.0"/><path d="M491.9 44.8V89.4M490.4 67.1h3.0"/><path d="M492.7 57.2V107.6M491.2 82.4h3.0"/><path d="M494.4 77.7V124.9M492.9 101.3h3.0"/><path d="M495.2 71.4V113.0M493.7 92.2h3.0"/><path d="M496.8 52.2V101.0M495.3 76.6h3.0"/><path d="M497.7 44.0V93.4M496.2 68.7h3.0"/><path d="M498.5 52.6V105.6M497.0 79.1h3.0"/><path d="M501.0 75.4V125.6M499.5 100.5h3.0"/><path d="M501.8 70.0V111.2M500.3 90.6h3.0"/><path d="M503.4 53.2V103.2M501.9 78.2h3.0"/><path d="M504.2 63.8V107.6M502.7 85.7h3.0"/><path d="M505.9 75.9V123.5M504.4 99.7h3.0"/><path d="M506.7 41.4V98.6M505.2 70.0h3.0"/><path d="M507.5 30.0V86.0M506.0 58.0h3.0"/><path d="M463.1 96.3V127.5M461.6 111.9h3.0"/><path d="M464.7 101.6V133.2M463.2 117.4h3.0"/><path d="M466.4 88.2V125.0M464.9 106.6h3.0"/><path d="M468.8 95.2V121.4M467.3 108.3h3.0"/><path d="M470.5 91.4V126.8M469.0 109.1h3.0"/><path d="M472.5 115.7V143.7M471.0 129.7h3.0"/><path d="M477.1 91.9V124.7M475.6 108.3h3.0"/><path d="M478.7 100.2V137.8M477.2 119.0h3.0"/><path d="M481.2 97.1V140.9M479.7 119.0h3.0"/><path d="M486.9 100.0V134.8M485.4 117.4h3.0"/><path d="M487.8 116.5V144.5M486.3 130.5h3.0"/><path d="M489.4 92.4V142.4M487.9 117.4h3.0"/><path d="M490.2 92.1V124.5M488.7 108.3h3.0"/><path d="M475.7 149.8V187.0M474.2 168.4h3.0"/><path d="M341.0 107.9V120.1M339.5 114.0h3.0"/><path d="M342.5 110.4V121.6M341.0 116.0h3.0"/><path d="M343.5 108.7V118.3M342.0 113.5h3.0"/><path d="M339.5 103.9V117.1M338.0 110.5h3.0"/></g><line x1="292.5" y1="113.50" x2="509.3" y2="113.50" stroke="#000" stroke-width="1.5"/><path d="M292.0 89.6 L292.4 89.8 L292.7 90.6 L293.1 91.7 L293.4 92.7 L293.8 93.6 L294.1 94.3 L294.4 94.9 L294.8 95.3 L295.1 95.8 L295.5 96.1 L295.9 96.5 L296.2 97.0 L296.6 97.5 L296.9 98.3 L297.2 99.3 L297.6 100.5 L297.9 101.5 L298.3 102.2 L298.6 102.6 L299.0 102.8 L299.4 102.7 L299.7 102.5 L300.1 102.4 L300.4 102.5 L300.8 102.9 L301.1 103.6 L301.4 104.6 L301.8 105.6 L302.1 106.1 L302.5 106.2 L302.9 106.1 L303.2 105.9 L303.6 105.7 L303.9 105.4 L304.2 105.0 L304.6 104.8 L304.9 104.7 L305.3 104.7 L305.6 104.8 L306.0 105.3 L306.4 105.9 L306.7 106.6 L307.1 107.3 L307.4 107.9 L307.8 108.2 L308.1 108.2 L308.4 107.9 L308.8 107.2 L309.1 106.5 L309.5 106.0 L309.9 105.6 L310.2 105.7 L310.6 106.3 L310.9 107.4 L311.2 108.5 L311.6 109.4 L311.9 109.8 L312.3 109.7 L312.6 109.5 L313.0 109.3 L313.4 109.3 L313.7 109.2 L314.1 108.9 L314.4 108.5 L314.8 108.0 L315.1 107.5 L315.4 107.2 L315.8 107.2 L316.1 107.8 L316.5 108.8 L316.9 109.8 L317.2 110.3 L317.6 110.2 L317.9 109.6 L318.2 108.8 L318.6 108.1 L318.9 107.8 L319.3 107.8 L319.6 107.7 L320.0 107.6 L320.4 107.4 L320.7 107.2 L321.1 107.1 L321.4 107.0 L321.8 106.9 L322.1 106.8 L322.4 107.0 L322.8 107.3 L323.1 107.9 L323.5 108.5 L323.9 109.2 L324.2 109.7 L324.6 110.0 L324.9 110.1 L325.2 109.4 L325.6 108.2 L325.9 107.1 L326.3 106.7 L326.6 106.7 L327.0 106.7 L327.4 106.7 L327.7 106.6 L328.1 106.7 L328.4 107.1 L328.8 107.8 L329.1 108.6 L329.4 109.2 L329.8 109.6 L330.1 109.6 L330.5 109.6 L330.9 109.5 L331.2 109.5 L331.6 109.5 L331.9 109.5 L332.2 108.9 L332.6 107.9 L332.9 107.1 L333.3 107.0 L333.6 107.2 L334.0 107.6 L334.4 108.1 L334.7 108.7 L335.1 109.2 L335.4 109.7 L335.8 110.1 L336.1 110.4 L336.4 110.5 L336.8 110.4 L337.1 110.2 L337.5 109.9 L337.9 109.6 L338.2 109.4 L338.6 109.4 L338.9 109.7 L339.2 110.1 L339.6 110.6 L339.9 111.1 L340.3 111.6 L340.6 112.0 L341.0 112.2 L341.4 112.2 L341.7 111.8 L342.1 111.3 L342.4 111.0 L342.4 117.0 L342.1 117.0 L341.7 117.2 L341.4 117.5 L341.0 118.0 L340.6 118.5 L340.3 118.9 L339.9 119.2 L339.6 119.5 L339.2 119.7 L338.9 119.9 L338.6 120.1 L338.2 120.3 L337.9 120.6 L337.5 120.8 L337.1 121.0 L336.8 121.0 L336.4 120.9 L336.1 120.7 L335.8 120.5 L335.4 120.4 L335.1 120.5 L334.7 120.8 L334.4 121.3 L334.0 121.8 L333.6 122.4 L333.3 123.0 L332.9 123.5 L332.6 123.9 L332.2 124.2 L331.9 124.4 L331.6 124.3 L331.2 124.0 L330.9 123.5 L330.5 123.0 L330.1 122.6 L329.8 122.3 L329.4 122.2 L329.1 122.4 L328.8 122.7 L328.4 123.1 L328.1 123.5 L327.7 124.1 L327.4 124.6 L327.0 125.0 L326.6 125.4 L326.3 125.6 L325.9 125.7 L325.6 125.6 L325.2 125.4 L324.9 125.2 L324.6 124.9 L324.2 124.7 L323.9 124.5 L323.5 124.5 L323.1 124.5 L322.8 124.7 L322.4 125.0 L322.1 125.2 L321.8 125.5 L321.4 125.7 L321.1 126.0 L320.7 126.5 L320.4 127.0 L320.0 127.6 L319.6 128.3 L319.3 128.9 L318.9 129.5 L318.6 130.0 L318.2 130.3 L317.9 130.6 L317.6 130.3 L317.2 129.6 L316.9 128.8 L316.5 128.3 L316.1 128.3 L315.8 128.6 L315.4 128.9 L315.1 129.2 L314.8 129.4 L314.4 129.4 L314.1 129.3 L313.7 129.0 L313.4 128.7 L313.0 128.3 L312.6 127.9 L312.3 127.6 L311.9 127.3 L311.6 127.0 L311.2 126.9 L310.9 126.9 L310.6 127.0 L310.2 127.1 L309.9 127.3 L309.5 127.5 L309.1 127.7 L308.8 127.8 L308.4 127.8 L308.1 127.7 L307.8 127.6 L307.4 127.3 L307.1 127.1 L306.7 126.8 L306.4 126.5 L306.0 126.2 L305.6 126.0 L305.3 125.8 L304.9 125.7 L304.6 125.8 L304.2 126.1 L303.9 126.5 L303.6 126.9 L303.2 127.1 L302.9 127.2 L302.5 126.9 L302.1 126.5 L301.8 125.9 L301.4 125.1 L301.1 124.3 L300.8 123.5 L300.4 122.6 L300.1 121.9 L299.7 121.3 L299.4 120.9 L299.0 120.7 L298.6 120.6 L298.3 120.7 L297.9 120.9 L297.6 121.2 L297.2 121.4 L296.9 121.5 L296.6 121.5 L296.2 121.4 L295.9 121.1 L295.5 120.7 L295.1 120.1 L294.8 119.5 L294.4 118.8 L294.1 118.2 L293.8 117.5 L293.4 116.8 L293.1 116.3 L292.7 115.9 L292.4 115.7 L292.0 115.7Z" fill="#1f77b4"/><g fill="#1f77b4"><circle cx="292.3" cy="104.1" r="2.3"/><circle cx="292.7" cy="104.2" r="2.3"/><circle cx="293.3" cy="103.6" r="2.3"/><circle cx="293.7" cy="104.0" r="2.3"/><circle cx="294.1" cy="107.2" r="2.3"/><circle cx="294.6" cy="108.9" r="2.3"/><circle cx="294.9" cy="105.8" r="2.3"/><circle cx="295.4" cy="101.4" r="2.3"/><circle cx="295.9" cy="114.3" r="2.3"/><circle cx="296.4" cy="111.6" r="2.3"/><circle cx="296.9" cy="109.5" r="2.3"/><circle cx="297.3" cy="111.2" r="2.3"/><circle cx="297.7" cy="107.2" r="2.3"/><circle cx="298.0" cy="111.2" r="2.3"/><circle cx="298.4" cy="110.8" r="2.3"/><circle cx="298.9" cy="105.1" r="2.3"/><circle cx="299.4" cy="116.2" r="2.3"/><circle cx="299.8" cy="113.9" r="2.3"/><circle cx="300.4" cy="113.5" r="2.3"/><circle cx="301.0" cy="114.5" r="2.3"/><circle cx="301.4" cy="114.4" r="2.3"/><circle cx="301.9" cy="115.5" r="2.3"/><circle cx="302.3" cy="114.7" r="2.3"/><circle cx="302.7" cy="117.9" r="2.3"/><circle cx="303.2" cy="118.5" r="2.3"/><circle cx="303.6" cy="111.8" r="2.3"/><circle cx="304.0" cy="110.6" r="2.3"/><circle cx="304.5" cy="109.7" r="2.3"/><circle cx="305.0" cy="119.2" r="2.3"/><circle cx="305.5" cy="112.0" r="2.3"/><circle cx="306.1" cy="114.5" r="2.3"/><circle cx="306.7" cy="112.6" r="2.3"/><circle cx="307.2" cy="120.7" r="2.3"/><circle cx="307.5" cy="111.3" r="2.3"/><circle cx="307.9" cy="116.7" r="2.3"/><circle cx="308.2" cy="119.0" r="2.3"/><circle cx="308.8" cy="117.4" r="2.3"/><circle cx="309.4" cy="113.5" r="2.3"/><circle cx="309.7" cy="114.3" r="2.3"/><circle cx="310.1" cy="120.2" r="2.3"/><circle cx="310.5" cy="116.4" r="2.3"/><circle cx="311.0" cy="122.6" r="2.3"/><circle cx="311.5" cy="117.6" r="2.3"/><circle cx="311.9" cy="120.9" r="2.3"/><circle cx="312.4" cy="118.4" r="2.3"/><circle cx="312.8" cy="120.4" r="2.3"/><circle cx="313.4" cy="124.0" r="2.3"/><circle cx="313.9" cy="120.2" r="2.3"/><circle cx="314.4" cy="122.9" r="2.3"/><circle cx="314.7" cy="119.7" r="2.3"/><circle cx="315.2" cy="120.5" r="2.3"/><circle cx="315.8" cy="119.4" r="2.3"/><circle cx="316.1" cy="119.4" r="2.3"/><circle cx="316.4" cy="113.3" r="2.3"/><circle cx="316.8" cy="117.3" r="2.3"/><circle cx="317.4" cy="119.5" r="2.3"/><circle cx="318.0" cy="124.0" r="2.3"/><circle cx="318.6" cy="119.5" r="2.3"/><circle cx="319.1" cy="118.9" r="2.3"/><circle cx="319.6" cy="119.0" r="2.3"/><circle cx="320.0" cy="118.4" r="2.3"/><circle cx="320.4" cy="114.8" r="2.3"/><circle cx="320.9" cy="117.5" r="2.3"/><circle cx="321.4" cy="115.7" r="2.3"/><circle cx="321.7" cy="116.1" r="2.3"/><circle cx="322.2" cy="116.9" r="2.3"/><circle cx="322.7" cy="116.6" r="2.3"/><circle cx="323.1" cy="117.1" r="2.3"/><circle cx="323.6" cy="116.3" r="2.3"/><circle cx="324.2" cy="114.6" r="2.3"/><circle cx="324.5" cy="115.8" r="2.3"/><circle cx="324.8" cy="119.7" r="2.3"/><circle cx="325.3" cy="119.8" r="2.3"/><circle cx="325.9" cy="120.8" r="2.3"/><circle cx="326.2" cy="117.2" r="2.3"/><circle cx="326.8" cy="110.3" r="2.3"/><circle cx="327.2" cy="121.4" r="2.3"/><circle cx="327.5" cy="113.4" r="2.3"/><circle cx="328.0" cy="112.0" r="2.3"/><circle cx="328.3" cy="112.7" r="2.3"/><circle cx="328.8" cy="116.3" r="2.3"/><circle cx="329.3" cy="114.7" r="2.3"/><circle cx="329.8" cy="117.2" r="2.3"/><circle cx="330.2" cy="114.9" r="2.3"/><circle cx="330.7" cy="117.2" r="2.3"/><circle cx="330.9" cy="114.8" r="2.3"/><circle cx="331.4" cy="119.9" r="2.3"/><circle cx="331.7" cy="117.5" r="2.3"/><circle cx="332.2" cy="118.7" r="2.3"/><circle cx="332.6" cy="114.3" r="2.3"/><circle cx="333.1" cy="115.7" r="2.3"/><circle cx="333.4" cy="111.2" r="2.3"/><circle cx="333.8" cy="113.1" r="2.3"/><circle cx="334.3" cy="114.8" r="2.3"/><circle cx="334.8" cy="112.2" r="2.3"/><circle cx="335.4" cy="113.6" r="2.3"/><circle cx="335.8" cy="115.2" r="2.3"/><circle cx="336.2" cy="115.7" r="2.3"/><circle cx="336.9" cy="116.1" r="2.3"/><circle cx="337.4" cy="116.4" r="2.3"/><circle cx="337.7" cy="113.2" r="2.3"/><circle cx="338.2" cy="117.0" r="2.3"/><circle cx="338.7" cy="112.9" r="2.3"/><circle cx="339.2" cy="113.6" r="2.3"/><circle cx="339.6" cy="115.5" r="2.3"/><circle cx="339.9" cy="113.1" r="2.3"/><circle cx="340.5" cy="116.0" r="2.3"/><circle cx="340.8" cy="115.6" r="2.3"/><circle cx="341.2" cy="114.7" r="2.3"/><circle cx="341.5" cy="114.1" r="2.3"/><circle cx="342.1" cy="114.4" r="2.3"/><circle cx="293.7" cy="88.2" r="2.3"/><circle cx="346.4" cy="106.4" r="2.3"/><circle cx="348.8" cy="108.8" r="2.3"/><circle cx="355.4" cy="106.4" r="2.3"/><circle cx="361.2" cy="101.4" r="2.3"/><circle cx="364.5" cy="103.0" r="2.3"/><circle cx="368.6" cy="99.8" r="2.3"/><circle cx="368.6" cy="108.8" r="2.3"/><circle cx="374.4" cy="100.6" r="2.3"/><circle cx="376.8" cy="101.4" r="2.3"/><circle cx="367.8" cy="113.0" r="2.3"/><circle cx="359.5" cy="117.0" r="2.3"/><circle cx="350.5" cy="118.7" r="2.3"/><circle cx="351.3" cy="119.0" r="2.3"/><circle cx="359.5" cy="116.5" r="2.3"/><circle cx="364.5" cy="112.4" r="2.3"/><circle cx="367.0" cy="116.5" r="2.3"/><circle cx="372.7" cy="114.9" r="2.3"/><circle cx="344.0" cy="117.8" r="2.3"/><circle cx="345.0" cy="124.3" r="2.3"/><circle cx="345.9" cy="107.6" r="2.3"/><circle cx="350.6" cy="118.7" r="2.3"/><circle cx="355.2" cy="105.7" r="2.3"/><circle cx="359.8" cy="116.9" r="2.3"/><circle cx="361.7" cy="102.0" r="2.3"/><circle cx="364.4" cy="103.9" r="2.3"/><circle cx="367.2" cy="116.9" r="2.3"/><circle cx="369.0" cy="99.3" r="2.3"/><circle cx="357.0" cy="111.3" r="2.3"/><circle cx="352.4" cy="112.2" r="2.3"/><circle cx="347.8" cy="112.2" r="2.3"/><circle cx="370.8" cy="99.7" r="2.3"/><circle cx="374.9" cy="100.5" r="2.3"/><circle cx="377.4" cy="101.4" r="2.3"/><circle cx="379.1" cy="105.5" r="2.3"/><circle cx="380.7" cy="107.1" r="2.3"/><circle cx="384.0" cy="103.8" r="2.3"/><circle cx="386.5" cy="103.0" r="2.3"/><circle cx="388.1" cy="104.7" r="2.3"/><circle cx="389.8" cy="101.4" r="2.3"/><circle cx="392.2" cy="99.7" r="2.3"/><circle cx="393.9" cy="106.3" r="2.3"/><circle cx="396.4" cy="106.3" r="2.3"/><circle cx="398.0" cy="96.4" r="2.3"/><circle cx="399.7" cy="98.1" r="2.3"/><circle cx="400.5" cy="107.1" r="2.3"/><circle cx="402.1" cy="91.5" r="2.3"/><circle cx="403.8" cy="88.2" r="2.3"/><circle cx="405.4" cy="102.2" r="2.3"/><circle cx="409.5" cy="94.8" r="2.3"/><circle cx="411.2" cy="106.3" r="2.3"/><circle cx="413.7" cy="108.0" r="2.3"/><circle cx="415.3" cy="84.9" r="2.3"/><circle cx="416.1" cy="97.2" r="2.3"/><circle cx="417.8" cy="101.4" r="2.3"/><circle cx="419.4" cy="103.8" r="2.3"/><circle cx="421.1" cy="102.2" r="2.3"/><circle cx="422.7" cy="100.5" r="2.3"/><circle cx="424.4" cy="101.4" r="2.3"/><circle cx="426.8" cy="101.4" r="2.3"/><circle cx="429.3" cy="92.3" r="2.3"/><circle cx="430.1" cy="96.4" r="2.3"/><circle cx="433.4" cy="106.3" r="2.3"/><circle cx="437.5" cy="95.6" r="2.3"/><circle cx="440.0" cy="84.9" r="2.3"/><circle cx="440.8" cy="88.2" r="2.3"/><circle cx="442.5" cy="103.8" r="2.3"/><circle cx="443.3" cy="107.1" r="2.3"/><circle cx="445.0" cy="91.5" r="2.3"/><circle cx="446.6" cy="84.9" r="2.3"/><circle cx="450.7" cy="90.7" r="2.3"/><circle cx="453.2" cy="98.1" r="2.3"/><circle cx="454.8" cy="80.0" r="2.3"/><circle cx="449.1" cy="102.2" r="2.3"/><circle cx="371.6" cy="114.9" r="2.3"/><circle cx="372.5" cy="117.4" r="2.3"/><circle cx="374.9" cy="112.4" r="2.3"/><circle cx="378.2" cy="114.1" r="2.3"/><circle cx="382.4" cy="116.5" r="2.3"/><circle cx="383.2" cy="113.2" r="2.3"/><circle cx="386.5" cy="119.0" r="2.3"/><circle cx="395.5" cy="119.0" r="2.3"/><circle cx="394.7" cy="106.6" r="2.3"/><circle cx="408.7" cy="108.3" r="2.3"/><circle cx="410.4" cy="112.4" r="2.3"/><circle cx="413.7" cy="120.7" r="2.3"/><circle cx="419.4" cy="106.6" r="2.3"/><circle cx="424.4" cy="111.6" r="2.3"/><circle cx="426.8" cy="114.1" r="2.3"/><circle cx="432.6" cy="114.1" r="2.3"/><circle cx="431.8" cy="119.8" r="2.3"/><circle cx="435.9" cy="118.2" r="2.3"/><circle cx="437.5" cy="111.6" r="2.3"/><circle cx="442.5" cy="107.5" r="2.3"/><circle cx="447.4" cy="126.4" r="2.3"/><circle cx="449.9" cy="111.6" r="2.3"/><circle cx="451.5" cy="117.4" r="2.3"/><circle cx="455.6" cy="79.9" r="2.3"/><circle cx="461.4" cy="70.0" r="2.3"/><circle cx="462.2" cy="74.9" r="2.3"/><circle cx="457.3" cy="93.1" r="2.3"/><circle cx="459.8" cy="92.2" r="2.3"/><circle cx="456.5" cy="97.2" r="2.3"/><circle cx="454.8" cy="99.7" r="2.3"/><circle cx="458.9" cy="103.0" r="2.3"/><circle cx="465.5" cy="96.4" r="2.3"/><circle cx="467.2" cy="106.2" r="2.3"/><circle cx="471.3" cy="93.1" r="2.3"/><circle cx="473.8" cy="103.8" r="2.3"/><circle cx="478.7" cy="93.9" r="2.3"/><circle cx="482.8" cy="104.6" r="2.3"/><circle cx="483.7" cy="99.7" r="2.3"/><circle cx="485.0" cy="79.1" r="2.3"/><circle cx="488.6" cy="102.1" r="2.3"/><circle cx="491.9" cy="67.1" r="2.3"/><circle cx="492.7" cy="82.4" r="2.3"/><circle cx="494.4" cy="101.3" r="2.3"/><circle cx="495.2" cy="92.2" r="2.3"/><circle cx="496.8" cy="76.6" r="2.3"/><circle cx="497.7" cy="68.7" r="2.3"/><circle cx="498.5" cy="79.1" r="2.3"/><circle cx="501.0" cy="100.5" r="2.3"/><circle cx="501.8" cy="90.6" r="2.3"/><circle cx="503.4" cy="78.2" r="2.3"/><circle cx="504.2" cy="85.7" r="2.3"/><circle cx="505.9" cy="99.7" r="2.3"/><circle cx="506.7" cy="70.0" r="2.3"/><circle cx="507.5" cy="58.0" r="2.3"/><circle cx="463.1" cy="111.9" r="2.3"/><circle cx="464.7" cy="117.4" r="2.3"/><circle cx="466.4" cy="106.6" r="2.3"/><circle cx="468.8" cy="108.3" r="2.3"/><circle cx="470.5" cy="109.1" r="2.3"/><circle cx="472.5" cy="129.7" r="2.3"/><circle cx="477.1" cy="108.3" r="2.3"/><circle cx="478.7" cy="119.0" r="2.3"/><circle cx="481.2" cy="119.0" r="2.3"/><circle cx="486.9" cy="117.4" r="2.3"/><circle cx="487.8" cy="130.5" r="2.3"/><circle cx="489.4" cy="117.4" r="2.3"/><circle cx="490.2" cy="108.3" r="2.3"/><circle cx="475.7" cy="168.4" r="2.3"/><circle cx="341.0" cy="114.0" r="2.3"/><circle cx="342.5" cy="116.0" r="2.3"/><circle cx="343.5" cy="113.5" r="2.3"/><circle cx="339.5" cy="110.5" r="2.3"/></g></g><rect x="292.5" y="13.0" width="216.8" height="201.0" fill="none" stroke="#333" stroke-width="1.1"/><path d="M307.99 214.0v-1.8M307.99 13.0v1.8M323.47 214.0v-1.8M323.47 13.0v1.8M338.96 214.0v-3.0M338.96 13.0v3.0M354.44 214.0v-1.8M354.44 13.0v1.8M369.93 214.0v-1.8M369.93 13.0v1.8M385.41 214.0v-1.8M385.41 13.0v1.8M400.90 214.0v-3.0M400.90 13.0v3.0M416.39 214.0v-1.8M416.39 13.0v1.8M431.87 214.0v-1.8M431.87 13.0v1.8M447.36 214.0v-1.8M447.36 13.0v1.8M462.84 214.0v-3.0M462.84 13.0v3.0M478.33 214.0v-1.8M478.33 13.0v1.8M493.81 214.0v-1.8M493.81 13.0v1.8M292.5 207.72h1.8M509.3 207.72h-1.8M292.5 201.44h1.8M509.3 201.44h-1.8M292.5 195.16h1.8M509.3 195.16h-1.8M292.5 188.88h3.0M509.3 188.88h-3.0M292.5 182.59h1.8M509.3 182.59h-1.8M292.5 176.31h1.8M509.3 176.31h-1.8M292.5 170.03h1.8M509.3 170.03h-1.8M292.5 163.75h3.0M509.3 163.75h-3.0M292.5 157.47h1.8M509.3 157.47h-1.8M292.5 151.19h1.8M509.3 151.19h-1.8M292.5 144.91h1.8M509.3 144.91h-1.8M292.5 138.62h3.0M509.3 138.62h-3.0M292.5 132.34h1.8M509.3 132.34h-1.8M292.5 126.06h1.8M509.3 126.06h-1.8M292.5 119.78h1.8M509.3 119.78h-1.8M292.5 113.50h3.0M509.3 113.50h-3.0M292.5 107.22h1.8M509.3 107.22h-1.8M292.5 100.94h1.8M509.3 100.94h-1.8M292.5 94.66h1.8M509.3 94.66h-1.8M292.5 88.38h3.0M509.3 88.38h-3.0M292.5 82.09h1.8M509.3 82.09h-1.8M292.5 75.81h1.8M509.3 75.81h-1.8M292.5 69.53h1.8M509.3 69.53h-1.8M292.5 63.25h3.0M509.3 63.25h-3.0M292.5 56.97h1.8M509.3 56.97h-1.8M292.5 50.69h1.8M509.3 50.69h-1.8M292.5 44.41h1.8M509.3 44.41h-1.8M292.5 38.13h3.0M509.3 38.13h-3.0M292.5 31.84h1.8M509.3 31.84h-1.8M292.5 25.56h1.8M509.3 25.56h-1.8M292.5 19.28h1.8M509.3 19.28h-1.8" stroke="#333" stroke-width="0.9" fill="none"/><path d="M309.1 28.6h11.6M314.9 22.900000000000002v11.7" stroke="#1f77b4" stroke-width="1.8" stroke-opacity="0.45"/><circle cx="314.9" cy="28.6" r="2.15" fill="#1f77b4"/><clipPath id="c2"><rect x="542.6" y="13.0" width="216.8" height="201.0"/></clipPath><g clip-path="url(#c2)"><g stroke="#d81b60" stroke-width="1.9" stroke-opacity="0.55" fill="none"><path d="M542.5 108.6V116.2M541.5 112.4h2.0"/><path d="M543.0 101.6V113.2M542.0 107.4h2.0"/><path d="M543.4 111.5V120.9M542.4 116.2h2.0"/><path d="M543.8 115.1V126.7M542.8 120.9h2.0"/><path d="M544.2 110.8V120.3M543.2 115.6h2.0"/><path d="M544.7 111.6V120.8M543.7 116.2h2.0"/><path d="M545.2 110.1V119.9M544.2 115.0h2.0"/><path d="M545.7 108.8V118.0M544.7 113.4h2.0"/><path d="M546.3 108.9V116.6M545.3 112.8h2.0"/><path d="M546.7 111.5V120.7M545.7 116.1h2.0"/><path d="M547.2 109.7V119.3M546.2 114.5h2.0"/><path d="M547.7 110.0V119.2M546.7 114.6h2.0"/><path d="M548.3 106.0V117.2M547.3 111.6h2.0"/><path d="M548.7 107.7V118.3M547.7 113.0h2.0"/><path d="M549.2 107.2V115.7M548.2 111.4h2.0"/><path d="M549.7 108.9V118.0M548.7 113.4h2.0"/><path d="M550.1 99.7V111.3M549.1 105.5h2.0"/><path d="M550.6 105.3V117.7M549.6 111.5h2.0"/><path d="M551.0 104.1V114.9M550.0 109.5h2.0"/><path d="M551.3 112.1V122.0M550.3 117.0h2.0"/><path d="M551.9 109.7V117.6M550.9 113.6h2.0"/><path d="M552.5 113.5V123.8M551.5 118.6h2.0"/><path d="M552.9 115.7V123.4M551.9 119.5h2.0"/><path d="M553.2 108.5V118.1M552.2 113.3h2.0"/><path d="M553.9 110.7V119.8M552.9 115.2h2.0"/><path d="M554.2 110.7V120.5M553.2 115.6h2.0"/><path d="M554.6 108.9V117.1M553.6 113.0h2.0"/><path d="M555.2 110.1V120.1M554.2 115.1h2.0"/><path d="M555.6 102.8V114.4M554.6 108.6h2.0"/><path d="M556.2 108.8V119.6M555.2 114.2h2.0"/><path d="M556.6 108.5V120.0M555.6 114.2h2.0"/><path d="M556.9 109.8V120.1M555.9 115.0h2.0"/><path d="M557.5 107.9V117.7M556.5 112.8h2.0"/><path d="M558.1 113.2V123.9M557.1 118.5h2.0"/><path d="M558.7 116.7V126.3M557.7 121.5h2.0"/><path d="M559.1 111.7V123.0M558.1 117.3h2.0"/><path d="M559.6 113.9V126.2M558.6 120.0h2.0"/><path d="M560.0 105.3V116.3M559.0 110.8h2.0"/><path d="M560.6 106.1V116.9M559.6 111.5h2.0"/><path d="M561.2 107.5V119.2M560.2 113.3h2.0"/><path d="M561.5 106.1V115.3M560.5 110.7h2.0"/><path d="M562.1 109.3V118.8M561.1 114.0h2.0"/><path d="M562.5 106.5V117.2M561.5 111.8h2.0"/><path d="M562.9 111.9V120.5M561.9 116.2h2.0"/><path d="M563.2 108.3V116.7M562.2 112.5h2.0"/><path d="M563.8 117.2V125.0M562.8 121.1h2.0"/><path d="M564.3 109.9V118.7M563.3 114.3h2.0"/><path d="M564.6 116.8V124.3M563.6 120.5h2.0"/><path d="M565.2 107.1V115.8M564.2 111.4h2.0"/><path d="M565.7 109.0V118.5M564.7 113.7h2.0"/><path d="M566.0 106.5V117.7M565.0 112.1h2.0"/><path d="M566.5 106.6V117.7M565.5 112.1h2.0"/><path d="M566.8 106.5V118.1M565.8 112.3h2.0"/><path d="M567.4 103.2V113.6M566.4 108.4h2.0"/><path d="M567.8 108.2V118.7M566.8 113.4h2.0"/><path d="M568.4 105.5V116.6M567.4 111.0h2.0"/><path d="M568.9 116.1V125.9M567.9 121.0h2.0"/><path d="M569.1 101.1V112.5M568.1 106.8h2.0"/><path d="M569.5 113.5V124.1M568.5 118.8h2.0"/><path d="M570.0 108.1V119.2M569.0 113.6h2.0"/><path d="M570.4 107.7V116.8M569.4 112.3h2.0"/><path d="M570.7 109.4V120.2M569.7 114.8h2.0"/><path d="M571.1 103.6V114.2M570.1 108.9h2.0"/><path d="M571.5 113.9V123.2M570.5 118.5h2.0"/><path d="M572.0 109.1V120.0M571.0 114.5h2.0"/><path d="M572.3 110.2V120.6M571.3 115.4h2.0"/><path d="M572.8 105.6V117.0M571.8 111.3h2.0"/><path d="M573.4 108.5V116.8M572.4 112.7h2.0"/><path d="M574.0 108.5V117.3M573.0 112.9h2.0"/><path d="M574.3 107.0V118.4M573.3 112.7h2.0"/><path d="M574.9 109.9V117.8M573.9 113.8h2.0"/><path d="M575.3 112.5V121.1M574.3 116.8h2.0"/><path d="M575.6 109.7V117.1M574.6 113.4h2.0"/><path d="M576.0 116.2V125.3M575.0 120.8h2.0"/><path d="M576.3 112.5V120.1M575.3 116.3h2.0"/><path d="M576.9 109.8V120.2M575.9 115.0h2.0"/><path d="M577.5 112.6V120.2M576.5 116.4h2.0"/><path d="M578.0 108.1V116.6M577.0 112.4h2.0"/><path d="M578.6 107.5V116.1M577.6 111.8h2.0"/><path d="M579.2 112.3V118.9M578.2 115.6h2.0"/><path d="M579.6 112.4V121.5M578.6 116.9h2.0"/><path d="M580.1 110.8V117.2M579.1 114.0h2.0"/><path d="M580.6 108.8V117.7M579.6 113.2h2.0"/><path d="M581.1 109.3V116.8M580.1 113.1h2.0"/><path d="M581.5 112.2V119.1M580.5 115.6h2.0"/><path d="M581.9 112.6V120.3M580.9 116.5h2.0"/><path d="M582.4 116.4V123.1M581.4 119.7h2.0"/><path d="M582.9 108.8V114.6M581.9 111.7h2.0"/><path d="M583.3 105.4V110.2M582.3 107.8h2.0"/><path d="M583.8 108.2V113.5M582.8 110.8h2.0"/><path d="M584.3 113.5V117.8M583.3 115.6h2.0"/><path d="M584.8 111.0V116.2M583.8 113.6h2.0"/><path d="M585.3 112.4V117.3M584.3 114.8h2.0"/><path d="M585.9 110.7V114.6M584.9 112.7h2.0"/><path d="M586.2 109.6V115.6M585.2 112.6h2.0"/><path d="M586.6 106.8V112.8M585.6 109.8h2.0"/><path d="M587.0 110.5V115.6M586.0 113.1h2.0"/><path d="M587.4 111.5V116.7M586.4 114.1h2.0"/><path d="M588.0 112.8V117.4M587.0 115.1h2.0"/><path d="M588.4 113.2V116.7M587.4 114.9h2.0"/><path d="M589.0 110.7V114.1M588.0 112.4h2.0"/><path d="M589.1 100.8V114.0M587.6 107.4h3.0"/><path d="M590.7 99.6V111.8M589.2 105.7h3.0"/><path d="M592.4 108.0V119.8M590.9 113.9h3.0"/><path d="M594.8 116.1V124.9M593.3 120.5h3.0"/><path d="M595.7 121.7V132.5M594.2 127.1h3.0"/><path d="M596.5 105.5V117.5M595.0 111.5h3.0"/><path d="M598.9 101.4V113.4M597.4 107.4h3.0"/><path d="M599.7 107.2V115.6M598.2 111.4h3.0"/><path d="M601.4 111.0V121.8M599.9 116.4h3.0"/><path d="M601.4 115.2V125.8M599.9 120.5h3.0"/><path d="M603.9 108.0V118.2M602.4 113.1h3.0"/><path d="M606.4 96.0V108.8M604.9 102.4h3.0"/><path d="M608.0 100.4V111.0M606.5 105.7h3.0"/><path d="M609.7 98.9V109.3M608.2 104.1h3.0"/><path d="M611.5 87.5V98.5M610.0 93.0h3.0"/><path d="M612.1 99.0V112.4M610.6 105.7h3.0"/><path d="M613.8 95.7V107.5M612.3 101.6h3.0"/><path d="M614.8 93.6V103.8M613.3 98.7h3.0"/><path d="M615.4 99.0V109.2M613.9 104.1h3.0"/><path d="M617.1 100.8V112.2M615.6 106.5h3.0"/><path d="M618.1 94.2V103.2M616.6 98.7h3.0"/><path d="M618.7 91.4V103.6M617.2 97.5h3.0"/><path d="M619.4 86.6V97.6M617.9 92.1h3.0"/><path d="M619.5 96.7V109.7M618.0 103.2h3.0"/><path d="M621.9 104.1V115.5M620.4 109.8h3.0"/><path d="M622.0 101.2V115.2M620.5 108.2h3.0"/><path d="M623.7 103.3V118.1M622.2 110.7h3.0"/><path d="M624.4 93.6V106.2M622.9 99.9h3.0"/><path d="M624.7 92.8V106.2M623.2 99.5h3.0"/><path d="M626.1 94.9V104.9M624.6 99.9h3.0"/><path d="M626.4 94.7V104.3M624.9 99.5h3.0"/><path d="M626.8 88.1V103.5M625.3 95.8h3.0"/><path d="M627.6 93.5V104.7M626.1 99.1h3.0"/><path d="M628.5 106.0V116.8M627.0 111.4h3.0"/><path d="M628.6 94.9V109.9M627.1 102.4h3.0"/><path d="M629.4 98.6V112.8M627.9 105.7h3.0"/><path d="M630.1 97.2V107.6M628.6 102.4h3.0"/><path d="M630.9 99.9V111.5M629.4 105.7h3.0"/><path d="M631.1 100.1V111.3M629.6 105.7h3.0"/><path d="M631.9 109.9V121.3M630.4 115.6h3.0"/><path d="M632.6 109.8V119.6M631.1 114.7h3.0"/><path d="M633.4 114.7V127.9M631.9 121.3h3.0"/><path d="M633.5 113.0V124.8M632.0 118.9h3.0"/><path d="M635.2 114.2V126.8M633.7 120.5h3.0"/><path d="M635.9 113.2V124.4M634.4 118.8h3.0"/><path d="M636.8 126.7V137.5M635.3 132.1h3.0"/><path d="M637.5 127.0V141.0M636.0 134.0h3.0"/><path d="M637.7 117.0V127.4M636.2 122.2h3.0"/><path d="M638.4 113.2V129.4M636.9 121.3h3.0"/><path d="M639.2 113.9V129.3M637.7 121.6h3.0"/><path d="M640.8 110.1V124.3M639.3 117.2h3.0"/><path d="M642.5 114.0V125.4M641.0 119.7h3.0"/><path d="M644.1 121.2V133.0M642.6 127.1h3.0"/><path d="M646.6 120.2V132.2M645.1 126.2h3.0"/><path d="M645.8 133.6V147.6M644.3 140.6h3.0"/><path d="M649.1 107.8V121.6M647.6 114.7h3.0"/><path d="M649.9 112.8V124.8M648.4 118.8h3.0"/><path d="M650.7 102.0V115.8M649.2 108.9h3.0"/><path d="M652.4 93.9V107.5M650.9 100.7h3.0"/><path d="M653.2 90.6V104.2M651.7 97.4h3.0"/><path d="M653.5 89.6V104.6M652.0 97.1h3.0"/><path d="M654.8 102.5V120.3M653.3 111.4h3.0"/><path d="M656.5 99.9V116.3M655.0 108.1h3.0"/><path d="M657.3 110.4V127.2M655.8 118.8h3.0"/><path d="M659.8 110.7V126.9M658.3 118.8h3.0"/><path d="M660.6 93.4V111.4M659.1 102.4h3.0"/><path d="M662.2 99.6V120.0M660.7 109.8h3.0"/><path d="M663.9 112.2V128.8M662.4 120.5h3.0"/><path d="M664.7 87.7V102.1M663.2 94.9h3.0"/><path d="M665.1 86.2V104.6M663.6 95.4h3.0"/><path d="M665.9 72.2V92.2M664.4 82.2h3.0"/><path d="M667.2 89.3V107.1M665.7 98.2h3.0"/><path d="M667.5 87.9V109.5M666.0 98.7h3.0"/><path d="M668.8 93.8V109.2M667.3 101.5h3.0"/><path d="M669.7 95.0V118.0M668.2 106.5h3.0"/><path d="M671.3 94.9V109.9M669.8 102.4h3.0"/><path d="M672.1 97.9V118.3M670.6 108.1h3.0"/><path d="M674.6 97.3V117.3M673.1 107.3h3.0"/><path d="M675.4 107.0V125.8M673.9 116.4h3.0"/><path d="M677.1 110.6V136.0M675.6 123.3h3.0"/><path d="M677.9 111.1V134.7M676.4 122.9h3.0"/><path d="M678.7 104.9V122.9M677.2 113.9h3.0"/><path d="M679.5 96.4V118.2M678.0 107.3h3.0"/><path d="M680.4 103.0V126.4M678.9 114.7h3.0"/><path d="M682.0 129.1V152.1M680.5 140.6h3.0"/><path d="M683.7 123.6V141.2M682.2 132.4h3.0"/><path d="M684.5 126.5V144.9M683.0 135.7h3.0"/><path d="M686.1 125.7V150.5M684.6 138.1h3.0"/><path d="M687.0 131.9V155.9M685.5 143.9h3.0"/><path d="M687.8 107.1V133.9M686.3 120.5h3.0"/><path d="M688.6 122.1V145.9M687.1 134.0h3.0"/><path d="M690.3 95.4V119.2M688.8 107.3h3.0"/><path d="M691.9 108.7V133.9M690.4 121.3h3.0"/><path d="M691.9 115.5V137.7M690.4 126.6h3.0"/><path d="M692.7 112.0V142.2M691.2 127.1h3.0"/><path d="M693.5 108.1V139.5M692.0 123.8h3.0"/><path d="M695.2 91.9V117.7M693.7 104.8h3.0"/><path d="M696.8 87.3V107.5M695.3 97.4h3.0"/><path d="M697.7 123.5V149.5M696.2 136.5h3.0"/><path d="M699.3 97.7V123.5M697.8 110.6h3.0"/><path d="M701.0 100.5V132.3M699.5 116.4h3.0"/><path d="M701.6 105.3V130.7M700.1 118.0h3.0"/><path d="M701.6 81.8V104.0M700.1 92.9h3.0"/><path d="M701.8 81.6V105.0M700.3 93.3h3.0"/><path d="M702.5 77.8V108.8M701.0 93.3h3.0"/><path d="M703.3 84.1V114.1M701.8 99.1h3.0"/><path d="M703.4 86.5V111.7M701.9 99.1h3.0"/><path d="M705.1 79.6V110.2M703.6 94.9h3.0"/><path d="M705.8 60.0V89.6M704.3 74.8h3.0"/><path d="M705.8 80.2V113.0M704.3 96.6h3.0"/><path d="M706.6 68.3V104.3M705.1 86.3h3.0"/><path d="M707.0 70.0V104.2M705.5 87.1h3.0"/><path d="M708.2 74.4V103.2M706.7 88.8h3.0"/><path d="M708.4 75.3V109.7M706.9 92.5h3.0"/><path d="M709.1 75.5V111.9M707.6 93.7h3.0"/><path d="M709.9 63.5V99.3M708.4 81.4h3.0"/><path d="M710.0 79.6V113.6M708.5 96.6h3.0"/><path d="M711.5 40.5V73.5M710.0 57.0h3.0"/><path d="M712.9 45.1V77.5M711.4 61.3h3.0"/><path d="M714.0 80.8V112.4M712.5 96.6h3.0"/><path d="M714.8 83.8V121.0M713.3 102.4h3.0"/><path d="M715.7 63.5V96.5M714.2 80.0h3.0"/><path d="M716.5 73.6V105.6M715.0 89.6h3.0"/><path d="M717.3 73.6V108.0M715.8 90.8h3.0"/><path d="M718.1 74.0V110.2M716.6 92.1h3.0"/><path d="M719.8 79.8V108.4M718.3 94.1h3.0"/><path d="M721.4 61.6V98.4M719.9 80.0h3.0"/><path d="M722.2 102.0V137.4M720.7 119.7h3.0"/><path d="M723.9 82.1V109.5M722.4 95.8h3.0"/><path d="M724.7 84.6V115.2M723.2 99.9h3.0"/><path d="M725.9 147.6V184.6M724.4 166.1h3.0"/><path d="M727.2 90.5V127.3M725.7 108.9h3.0"/><path d="M728.8 102.7V139.9M727.3 121.3h3.0"/><path d="M729.7 82.9V113.5M728.2 98.2h3.0"/><path d="M730.5 104.6V144.6M729.0 124.6h3.0"/><path d="M732.9 100.7V132.1M731.4 116.4h3.0"/><path d="M733.8 89.3V135.1M732.3 112.2h3.0"/><path d="M734.6 75.6V110.8M733.1 93.2h3.0"/><path d="M734.6 106.2V146.2M733.1 126.2h3.0"/><path d="M735.4 78.4V108.2M733.9 93.3h3.0"/><path d="M737.1 119.2V160.4M735.6 139.8h3.0"/><path d="M738.7 87.0V134.2M737.2 110.6h3.0"/><path d="M739.5 102.4V146.8M738.0 124.6h3.0"/><path d="M741.2 95.0V136.0M739.7 115.5h3.0"/><path d="M742.0 52.0V96.8M740.5 74.4h3.0"/><path d="M743.7 63.5V114.1M742.2 88.8h3.0"/><path d="M744.5 85.0V129.6M743.0 107.3h3.0"/><path d="M745.3 82.7V113.7M743.8 98.2h3.0"/><path d="M747.0 56.5V107.9M745.5 82.2h3.0"/><path d="M747.8 49.6V99.2M746.3 74.4h3.0"/><path d="M749.4 64.8V106.2M747.9 85.5h3.0"/><path d="M749.4 71.3V123.5M747.9 97.4h3.0"/><path d="M751.1 82.6V133.6M749.6 108.1h3.0"/><path d="M753.5 61.6V112.6M752.0 87.1h3.0"/><path d="M753.5 78.1V115.1M752.0 96.6h3.0"/><path d="M756.0 92.8V128.4M754.5 110.6h3.0"/><path d="M756.8 64.5V99.9M755.3 82.2h3.0"/><path d="M758.5 45.3V99.3M757.0 72.3h3.0"/><path d="M587.5 99.0V115.0M586.0 107.0h3.0"/><path d="M588.3 97.8V113.2M586.8 105.5h3.0"/><path d="M589.9 99.2V109.8M588.4 104.5h3.0"/><path d="M591.6 103.6V112.4M590.1 108.0h3.0"/><path d="M593.2 105.8V115.2M591.7 110.5h3.0"/><path d="M597.3 99.3V110.7M595.8 105.0h3.0"/><path d="M598.1 98.4V109.6M596.6 104.0h3.0"/><path d="M600.6 102.1V113.9M599.1 108.0h3.0"/><path d="M602.2 105.8V118.2M600.7 112.0h3.0"/><path d="M605.0 110.7V122.3M603.5 116.5h3.0"/><path d="M603.0 112.1V123.9M601.5 118.0h3.0"/><path d="M586.6 106.7V117.3M585.1 112.0h3.0"/><path d="M744.0 78.0V122.0M742.5 100.0h3.0"/><path d="M748.5 80.0V128.0M747.0 104.0h3.0"/><path d="M752.0 74.0V122.0M750.5 98.0h3.0"/><path d="M755.5 77.0V129.0M754.0 103.0h3.0"/><path d="M757.5 68.0V122.0M756.0 95.0h3.0"/><path d="M746.0 67.0V113.0M744.5 90.0h3.0"/><path d="M740.5 85.0V125.0M739.0 105.0h3.0"/><path d="M703.0 89.0V119.0M701.5 104.0h3.0"/><path d="M707.0 84.0V116.0M705.5 100.0h3.0"/><path d="M713.0 83.0V117.0M711.5 100.0h3.0"/><path d="M719.0 86.0V122.0M717.5 104.0h3.0"/><path d="M725.5 85.0V123.0M724.0 104.0h3.0"/></g><line x1="542.6" y1="113.50" x2="759.4000000000001" y2="113.50" stroke="#000" stroke-width="1.5"/><path d="M542.2 101.0 L542.5 101.4 L542.9 101.7 L543.2 102.0 L543.6 102.3 L544.0 102.4 L544.3 102.3 L544.6 102.0 L545.0 101.6 L545.4 101.3 L545.7 101.2 L546.0 101.3 L546.4 101.5 L546.8 101.7 L547.1 101.9 L547.5 102.2 L547.8 102.4 L548.1 102.5 L548.5 102.5 L548.9 102.3 L549.2 102.0 L549.5 101.6 L549.9 101.2 L550.2 100.9 L550.6 100.8 L551.0 100.9 L551.3 101.0 L551.6 101.2 L552.0 101.4 L552.4 101.7 L552.7 102.0 L553.0 102.2 L553.4 102.3 L553.8 102.3 L554.1 102.3 L554.5 102.2 L554.8 102.1 L555.1 102.0 L555.5 101.8 L555.9 101.6 L556.2 101.5 L556.5 101.4 L556.9 101.3 L557.2 101.6 L557.6 102.3 L558.0 103.1 L558.3 103.8 L558.6 104.1 L559.0 103.9 L559.4 103.1 L559.7 101.9 L560.0 101.0 L560.4 100.7 L560.8 100.7 L561.1 100.6 L561.5 100.5 L561.8 100.4 L562.1 100.3 L562.5 100.3 L562.9 100.4 L563.2 101.0 L563.5 102.0 L563.9 103.0 L564.2 103.7 L564.6 104.0 L565.0 103.9 L565.3 103.6 L565.6 103.1 L566.0 102.5 L566.4 102.0 L566.7 101.4 L567.0 101.0 L567.4 100.7 L567.8 100.6 L568.1 100.7 L568.5 100.9 L568.8 101.3 L569.1 101.7 L569.5 102.1 L569.9 102.5 L570.2 102.8 L570.5 103.0 L570.9 102.9 L571.2 102.8 L571.6 102.7 L572.0 102.4 L572.3 102.2 L572.6 101.9 L573.0 101.9 L573.4 102.0 L573.7 102.2 L574.0 102.4 L574.4 102.7 L574.8 103.1 L575.1 103.5 L575.5 103.8 L575.8 104.0 L576.1 104.2 L576.5 104.1 L576.9 103.9 L577.2 103.7 L577.5 103.7 L577.9 103.8 L578.2 104.0 L578.6 104.1 L579.0 104.1 L579.3 104.2 L579.6 104.2 L580.0 104.3 L580.4 104.6 L580.7 104.8 L581.0 104.9 L581.4 105.1 L581.8 105.2 L582.1 105.4 L582.5 105.5 L582.8 105.7 L583.1 105.8 L583.5 106.0 L583.9 106.3 L584.2 107.0 L584.5 107.7 L584.9 108.3 L585.2 108.6 L585.6 108.6 L586.0 108.5 L586.3 108.3 L586.6 108.1 L587.0 108.0 L587.4 108.0 L587.7 108.1 L588.0 108.1 L588.4 108.1 L588.8 108.1 L589.1 108.1 L589.5 108.3 L589.5 117.5 L589.1 118.0 L588.8 118.3 L588.4 118.6 L588.0 118.9 L587.7 119.2 L587.4 119.7 L587.0 120.0 L586.6 120.3 L586.3 120.4 L586.0 120.5 L585.6 120.5 L585.2 120.4 L584.9 120.3 L584.5 120.2 L584.2 120.1 L583.9 120.1 L583.5 120.2 L583.1 120.5 L582.8 121.1 L582.5 121.8 L582.1 122.5 L581.8 122.9 L581.4 123.1 L581.0 123.2 L580.7 123.2 L580.4 123.1 L580.0 122.9 L579.6 122.8 L579.3 122.8 L579.0 122.9 L578.6 123.1 L578.2 123.5 L577.9 124.0 L577.5 124.7 L577.2 125.2 L576.9 125.7 L576.5 126.0 L576.1 126.1 L575.8 126.3 L575.5 126.5 L575.1 126.7 L574.8 126.9 L574.4 127.1 L574.0 127.3 L573.7 127.3 L573.4 126.9 L573.0 126.3 L572.6 125.7 L572.3 125.4 L572.0 125.4 L571.6 125.4 L571.2 125.4 L570.9 125.5 L570.5 125.5 L570.2 125.7 L569.9 126.5 L569.5 127.4 L569.1 128.0 L568.8 127.8 L568.5 127.1 L568.1 126.2 L567.8 125.6 L567.4 125.5 L567.0 125.7 L566.7 125.9 L566.4 126.1 L566.0 126.3 L565.6 126.4 L565.3 126.4 L565.0 126.3 L564.6 126.1 L564.2 125.9 L563.9 125.6 L563.5 125.2 L563.2 124.9 L562.9 124.7 L562.5 124.5 L562.1 124.4 L561.8 124.4 L561.5 124.6 L561.1 125.1 L560.8 125.7 L560.4 126.4 L560.0 127.1 L559.7 127.6 L559.4 128.0 L559.0 128.1 L558.6 128.1 L558.3 127.8 L558.0 127.4 L557.6 126.9 L557.2 126.4 L556.9 125.9 L556.5 125.6 L556.2 125.4 L555.9 125.5 L555.5 126.1 L555.1 126.9 L554.8 127.4 L554.5 127.4 L554.1 127.1 L553.8 126.6 L553.4 126.0 L553.0 125.4 L552.7 125.1 L552.4 125.1 L552.0 125.3 L551.6 125.7 L551.3 126.1 L551.0 126.6 L550.6 126.9 L550.2 127.1 L549.9 127.1 L549.5 127.1 L549.2 127.1 L548.9 127.0 L548.5 127.0 L548.1 126.9 L547.8 126.9 L547.5 126.8 L547.1 126.8 L546.8 126.2 L546.4 125.2 L546.0 124.1 L545.7 123.6 L545.4 123.9 L545.0 124.8 L544.6 126.1 L544.3 127.0 L544.0 127.2 L543.6 126.9 L543.2 126.3 L542.9 125.6 L542.5 124.8 L542.2 124.2Z" fill="#d81b60"/><g fill="#d81b60"><circle cx="542.5" cy="112.4" r="2.3"/><circle cx="543.0" cy="107.4" r="2.3"/><circle cx="543.4" cy="116.2" r="2.3"/><circle cx="543.8" cy="120.9" r="2.3"/><circle cx="544.2" cy="115.6" r="2.3"/><circle cx="544.7" cy="116.2" r="2.3"/><circle cx="545.2" cy="115.0" r="2.3"/><circle cx="545.7" cy="113.4" r="2.3"/><circle cx="546.3" cy="112.8" r="2.3"/><circle cx="546.7" cy="116.1" r="2.3"/><circle cx="547.2" cy="114.5" r="2.3"/><circle cx="547.7" cy="114.6" r="2.3"/><circle cx="548.3" cy="111.6" r="2.3"/><circle cx="548.7" cy="113.0" r="2.3"/><circle cx="549.2" cy="111.4" r="2.3"/><circle cx="549.7" cy="113.4" r="2.3"/><circle cx="550.1" cy="105.5" r="2.3"/><circle cx="550.6" cy="111.5" r="2.3"/><circle cx="551.0" cy="109.5" r="2.3"/><circle cx="551.3" cy="117.0" r="2.3"/><circle cx="551.9" cy="113.6" r="2.3"/><circle cx="552.5" cy="118.6" r="2.3"/><circle cx="552.9" cy="119.5" r="2.3"/><circle cx="553.2" cy="113.3" r="2.3"/><circle cx="553.9" cy="115.2" r="2.3"/><circle cx="554.2" cy="115.6" r="2.3"/><circle cx="554.6" cy="113.0" r="2.3"/><circle cx="555.2" cy="115.1" r="2.3"/><circle cx="555.6" cy="108.6" r="2.3"/><circle cx="556.2" cy="114.2" r="2.3"/><circle cx="556.6" cy="114.2" r="2.3"/><circle cx="556.9" cy="115.0" r="2.3"/><circle cx="557.5" cy="112.8" r="2.3"/><circle cx="558.1" cy="118.5" r="2.3"/><circle cx="558.7" cy="121.5" r="2.3"/><circle cx="559.1" cy="117.3" r="2.3"/><circle cx="559.6" cy="120.0" r="2.3"/><circle cx="560.0" cy="110.8" r="2.3"/><circle cx="560.6" cy="111.5" r="2.3"/><circle cx="561.2" cy="113.3" r="2.3"/><circle cx="561.5" cy="110.7" r="2.3"/><circle cx="562.1" cy="114.0" r="2.3"/><circle cx="562.5" cy="111.8" r="2.3"/><circle cx="562.9" cy="116.2" r="2.3"/><circle cx="563.2" cy="112.5" r="2.3"/><circle cx="563.8" cy="121.1" r="2.3"/><circle cx="564.3" cy="114.3" r="2.3"/><circle cx="564.6" cy="120.5" r="2.3"/><circle cx="565.2" cy="111.4" r="2.3"/><circle cx="565.7" cy="113.7" r="2.3"/><circle cx="566.0" cy="112.1" r="2.3"/><circle cx="566.5" cy="112.1" r="2.3"/><circle cx="566.8" cy="112.3" r="2.3"/><circle cx="567.4" cy="108.4" r="2.3"/><circle cx="567.8" cy="113.4" r="2.3"/><circle cx="568.4" cy="111.0" r="2.3"/><circle cx="568.9" cy="121.0" r="2.3"/><circle cx="569.1" cy="106.8" r="2.3"/><circle cx="569.5" cy="118.8" r="2.3"/><circle cx="570.0" cy="113.6" r="2.3"/><circle cx="570.4" cy="112.3" r="2.3"/><circle cx="570.7" cy="114.8" r="2.3"/><circle cx="571.1" cy="108.9" r="2.3"/><circle cx="571.5" cy="118.5" r="2.3"/><circle cx="572.0" cy="114.5" r="2.3"/><circle cx="572.3" cy="115.4" r="2.3"/><circle cx="572.8" cy="111.3" r="2.3"/><circle cx="573.4" cy="112.7" r="2.3"/><circle cx="574.0" cy="112.9" r="2.3"/><circle cx="574.3" cy="112.7" r="2.3"/><circle cx="574.9" cy="113.8" r="2.3"/><circle cx="575.3" cy="116.8" r="2.3"/><circle cx="575.6" cy="113.4" r="2.3"/><circle cx="576.0" cy="120.8" r="2.3"/><circle cx="576.3" cy="116.3" r="2.3"/><circle cx="576.9" cy="115.0" r="2.3"/><circle cx="577.5" cy="116.4" r="2.3"/><circle cx="578.0" cy="112.4" r="2.3"/><circle cx="578.6" cy="111.8" r="2.3"/><circle cx="579.2" cy="115.6" r="2.3"/><circle cx="579.6" cy="116.9" r="2.3"/><circle cx="580.1" cy="114.0" r="2.3"/><circle cx="580.6" cy="113.2" r="2.3"/><circle cx="581.1" cy="113.1" r="2.3"/><circle cx="581.5" cy="115.6" r="2.3"/><circle cx="581.9" cy="116.5" r="2.3"/><circle cx="582.4" cy="119.7" r="2.3"/><circle cx="582.9" cy="111.7" r="2.3"/><circle cx="583.3" cy="107.8" r="2.3"/><circle cx="583.8" cy="110.8" r="2.3"/><circle cx="584.3" cy="115.6" r="2.3"/><circle cx="584.8" cy="113.6" r="2.3"/><circle cx="585.3" cy="114.8" r="2.3"/><circle cx="585.9" cy="112.7" r="2.3"/><circle cx="586.2" cy="112.6" r="2.3"/><circle cx="586.6" cy="109.8" r="2.3"/><circle cx="587.0" cy="113.1" r="2.3"/><circle cx="587.4" cy="114.1" r="2.3"/><circle cx="588.0" cy="115.1" r="2.3"/><circle cx="588.4" cy="114.9" r="2.3"/><circle cx="589.0" cy="112.4" r="2.3"/><circle cx="589.1" cy="107.4" r="2.3"/><circle cx="590.7" cy="105.7" r="2.3"/><circle cx="592.4" cy="113.9" r="2.3"/><circle cx="594.8" cy="120.5" r="2.3"/><circle cx="595.7" cy="127.1" r="2.3"/><circle cx="596.5" cy="111.5" r="2.3"/><circle cx="598.9" cy="107.4" r="2.3"/><circle cx="599.7" cy="111.4" r="2.3"/><circle cx="601.4" cy="116.4" r="2.3"/><circle cx="601.4" cy="120.5" r="2.3"/><circle cx="603.9" cy="113.1" r="2.3"/><circle cx="606.4" cy="102.4" r="2.3"/><circle cx="608.0" cy="105.7" r="2.3"/><circle cx="609.7" cy="104.1" r="2.3"/><circle cx="611.5" cy="93.0" r="2.3"/><circle cx="612.1" cy="105.7" r="2.3"/><circle cx="613.8" cy="101.6" r="2.3"/><circle cx="614.8" cy="98.7" r="2.3"/><circle cx="615.4" cy="104.1" r="2.3"/><circle cx="617.1" cy="106.5" r="2.3"/><circle cx="618.1" cy="98.7" r="2.3"/><circle cx="618.7" cy="97.5" r="2.3"/><circle cx="619.4" cy="92.1" r="2.3"/><circle cx="619.5" cy="103.2" r="2.3"/><circle cx="621.9" cy="109.8" r="2.3"/><circle cx="622.0" cy="108.2" r="2.3"/><circle cx="623.7" cy="110.7" r="2.3"/><circle cx="624.4" cy="99.9" r="2.3"/><circle cx="624.7" cy="99.5" r="2.3"/><circle cx="626.1" cy="99.9" r="2.3"/><circle cx="626.4" cy="99.5" r="2.3"/><circle cx="626.8" cy="95.8" r="2.3"/><circle cx="627.6" cy="99.1" r="2.3"/><circle cx="628.5" cy="111.4" r="2.3"/><circle cx="628.6" cy="102.4" r="2.3"/><circle cx="629.4" cy="105.7" r="2.3"/><circle cx="630.1" cy="102.4" r="2.3"/><circle cx="630.9" cy="105.7" r="2.3"/><circle cx="631.1" cy="105.7" r="2.3"/><circle cx="631.9" cy="115.6" r="2.3"/><circle cx="632.6" cy="114.7" r="2.3"/><circle cx="633.4" cy="121.3" r="2.3"/><circle cx="633.5" cy="118.9" r="2.3"/><circle cx="635.2" cy="120.5" r="2.3"/><circle cx="635.9" cy="118.8" r="2.3"/><circle cx="636.8" cy="132.1" r="2.3"/><circle cx="637.5" cy="134.0" r="2.3"/><circle cx="637.7" cy="122.2" r="2.3"/><circle cx="638.4" cy="121.3" r="2.3"/><circle cx="639.2" cy="121.6" r="2.3"/><circle cx="640.8" cy="117.2" r="2.3"/><circle cx="642.5" cy="119.7" r="2.3"/><circle cx="644.1" cy="127.1" r="2.3"/><circle cx="646.6" cy="126.2" r="2.3"/><circle cx="645.8" cy="140.6" r="2.3"/><circle cx="649.1" cy="114.7" r="2.3"/><circle cx="649.9" cy="118.8" r="2.3"/><circle cx="650.7" cy="108.9" r="2.3"/><circle cx="652.4" cy="100.7" r="2.3"/><circle cx="653.2" cy="97.4" r="2.3"/><circle cx="653.5" cy="97.1" r="2.3"/><circle cx="654.8" cy="111.4" r="2.3"/><circle cx="656.5" cy="108.1" r="2.3"/><circle cx="657.3" cy="118.8" r="2.3"/><circle cx="659.8" cy="118.8" r="2.3"/><circle cx="660.6" cy="102.4" r="2.3"/><circle cx="662.2" cy="109.8" r="2.3"/><circle cx="663.9" cy="120.5" r="2.3"/><circle cx="664.7" cy="94.9" r="2.3"/><circle cx="665.1" cy="95.4" r="2.3"/><circle cx="665.9" cy="82.2" r="2.3"/><circle cx="667.2" cy="98.2" r="2.3"/><circle cx="667.5" cy="98.7" r="2.3"/><circle cx="668.8" cy="101.5" r="2.3"/><circle cx="669.7" cy="106.5" r="2.3"/><circle cx="671.3" cy="102.4" r="2.3"/><circle cx="672.1" cy="108.1" r="2.3"/><circle cx="674.6" cy="107.3" r="2.3"/><circle cx="675.4" cy="116.4" r="2.3"/><circle cx="677.1" cy="123.3" r="2.3"/><circle cx="677.9" cy="122.9" r="2.3"/><circle cx="678.7" cy="113.9" r="2.3"/><circle cx="679.5" cy="107.3" r="2.3"/><circle cx="680.4" cy="114.7" r="2.3"/><circle cx="682.0" cy="140.6" r="2.3"/><circle cx="683.7" cy="132.4" r="2.3"/><circle cx="684.5" cy="135.7" r="2.3"/><circle cx="686.1" cy="138.1" r="2.3"/><circle cx="687.0" cy="143.9" r="2.3"/><circle cx="687.8" cy="120.5" r="2.3"/><circle cx="688.6" cy="134.0" r="2.3"/><circle cx="690.3" cy="107.3" r="2.3"/><circle cx="691.9" cy="121.3" r="2.3"/><circle cx="691.9" cy="126.6" r="2.3"/><circle cx="692.7" cy="127.1" r="2.3"/><circle cx="693.5" cy="123.8" r="2.3"/><circle cx="695.2" cy="104.8" r="2.3"/><circle cx="696.8" cy="97.4" r="2.3"/><circle cx="697.7" cy="136.5" r="2.3"/><circle cx="699.3" cy="110.6" r="2.3"/><circle cx="701.0" cy="116.4" r="2.3"/><circle cx="701.6" cy="118.0" r="2.3"/><circle cx="701.6" cy="92.9" r="2.3"/><circle cx="701.8" cy="93.3" r="2.3"/><circle cx="702.5" cy="93.3" r="2.3"/><circle cx="703.3" cy="99.1" r="2.3"/><circle cx="703.4" cy="99.1" r="2.3"/><circle cx="705.1" cy="94.9" r="2.3"/><circle cx="705.8" cy="74.8" r="2.3"/><circle cx="705.8" cy="96.6" r="2.3"/><circle cx="706.6" cy="86.3" r="2.3"/><circle cx="707.0" cy="87.1" r="2.3"/><circle cx="708.2" cy="88.8" r="2.3"/><circle cx="708.4" cy="92.5" r="2.3"/><circle cx="709.1" cy="93.7" r="2.3"/><circle cx="709.9" cy="81.4" r="2.3"/><circle cx="710.0" cy="96.6" r="2.3"/><circle cx="711.5" cy="57.0" r="2.3"/><circle cx="712.9" cy="61.3" r="2.3"/><circle cx="714.0" cy="96.6" r="2.3"/><circle cx="714.8" cy="102.4" r="2.3"/><circle cx="715.7" cy="80.0" r="2.3"/><circle cx="716.5" cy="89.6" r="2.3"/><circle cx="717.3" cy="90.8" r="2.3"/><circle cx="718.1" cy="92.1" r="2.3"/><circle cx="719.8" cy="94.1" r="2.3"/><circle cx="721.4" cy="80.0" r="2.3"/><circle cx="722.2" cy="119.7" r="2.3"/><circle cx="723.9" cy="95.8" r="2.3"/><circle cx="724.7" cy="99.9" r="2.3"/><circle cx="725.9" cy="166.1" r="2.3"/><circle cx="727.2" cy="108.9" r="2.3"/><circle cx="728.8" cy="121.3" r="2.3"/><circle cx="729.7" cy="98.2" r="2.3"/><circle cx="730.5" cy="124.6" r="2.3"/><circle cx="732.9" cy="116.4" r="2.3"/><circle cx="733.8" cy="112.2" r="2.3"/><circle cx="734.6" cy="93.2" r="2.3"/><circle cx="734.6" cy="126.2" r="2.3"/><circle cx="735.4" cy="93.3" r="2.3"/><circle cx="737.1" cy="139.8" r="2.3"/><circle cx="738.7" cy="110.6" r="2.3"/><circle cx="739.5" cy="124.6" r="2.3"/><circle cx="741.2" cy="115.5" r="2.3"/><circle cx="742.0" cy="74.4" r="2.3"/><circle cx="743.7" cy="88.8" r="2.3"/><circle cx="744.5" cy="107.3" r="2.3"/><circle cx="745.3" cy="98.2" r="2.3"/><circle cx="747.0" cy="82.2" r="2.3"/><circle cx="747.8" cy="74.4" r="2.3"/><circle cx="749.4" cy="85.5" r="2.3"/><circle cx="749.4" cy="97.4" r="2.3"/><circle cx="751.1" cy="108.1" r="2.3"/><circle cx="753.5" cy="87.1" r="2.3"/><circle cx="753.5" cy="96.6" r="2.3"/><circle cx="756.0" cy="110.6" r="2.3"/><circle cx="756.8" cy="82.2" r="2.3"/><circle cx="758.5" cy="72.3" r="2.3"/><circle cx="587.5" cy="107.0" r="2.3"/><circle cx="588.3" cy="105.5" r="2.3"/><circle cx="589.9" cy="104.5" r="2.3"/><circle cx="591.6" cy="108.0" r="2.3"/><circle cx="593.2" cy="110.5" r="2.3"/><circle cx="597.3" cy="105.0" r="2.3"/><circle cx="598.1" cy="104.0" r="2.3"/><circle cx="600.6" cy="108.0" r="2.3"/><circle cx="602.2" cy="112.0" r="2.3"/><circle cx="605.0" cy="116.5" r="2.3"/><circle cx="603.0" cy="118.0" r="2.3"/><circle cx="586.6" cy="112.0" r="2.3"/><circle cx="744.0" cy="100.0" r="2.3"/><circle cx="748.5" cy="104.0" r="2.3"/><circle cx="752.0" cy="98.0" r="2.3"/><circle cx="755.5" cy="103.0" r="2.3"/><circle cx="757.5" cy="95.0" r="2.3"/><circle cx="746.0" cy="90.0" r="2.3"/><circle cx="740.5" cy="105.0" r="2.3"/><circle cx="703.0" cy="104.0" r="2.3"/><circle cx="707.0" cy="100.0" r="2.3"/><circle cx="713.0" cy="100.0" r="2.3"/><circle cx="719.0" cy="104.0" r="2.3"/><circle cx="725.5" cy="104.0" r="2.3"/></g></g><rect x="542.6" y="13.0" width="216.8" height="201.0" fill="none" stroke="#333" stroke-width="1.1"/><path d="M558.09 214.0v-1.8M558.09 13.0v1.8M573.57 214.0v-1.8M573.57 13.0v1.8M589.06 214.0v-3.0M589.06 13.0v3.0M604.54 214.0v-1.8M604.54 13.0v1.8M620.03 214.0v-1.8M620.03 13.0v1.8M635.51 214.0v-1.8M635.51 13.0v1.8M651.00 214.0v-3.0M651.00 13.0v3.0M666.49 214.0v-1.8M666.49 13.0v1.8M681.97 214.0v-1.8M681.97 13.0v1.8M697.46 214.0v-1.8M697.46 13.0v1.8M712.94 214.0v-3.0M712.94 13.0v3.0M728.43 214.0v-1.8M728.43 13.0v1.8M743.91 214.0v-1.8M743.91 13.0v1.8M542.6 207.72h1.8M759.4000000000001 207.72h-1.8M542.6 201.44h1.8M759.4000000000001 201.44h-1.8M542.6 195.16h1.8M759.4000000000001 195.16h-1.8M542.6 188.88h3.0M759.4000000000001 188.88h-3.0M542.6 182.59h1.8M759.4000000000001 182.59h-1.8M542.6 176.31h1.8M759.4000000000001 176.31h-1.8M542.6 170.03h1.8M759.4000000000001 170.03h-1.8M542.6 163.75h3.0M759.4000000000001 163.75h-3.0M542.6 157.47h1.8M759.4000000000001 157.47h-1.8M542.6 151.19h1.8M759.4000000000001 151.19h-1.8M542.6 144.91h1.8M759.4000000000001 144.91h-1.8M542.6 138.62h3.0M759.4000000000001 138.62h-3.0M542.6 132.34h1.8M759.4000000000001 132.34h-1.8M542.6 126.06h1.8M759.4000000000001 126.06h-1.8M542.6 119.78h1.8M759.4000000000001 119.78h-1.8M542.6 113.50h3.0M759.4000000000001 113.50h-3.0M542.6 107.22h1.8M759.4000000000001 107.22h-1.8M542.6 100.94h1.8M759.4000000000001 100.94h-1.8M542.6 94.66h1.8M759.4000000000001 94.66h-1.8M542.6 88.38h3.0M759.4000000000001 88.38h-3.0M542.6 82.09h1.8M759.4000000000001 82.09h-1.8M542.6 75.81h1.8M759.4000000000001 75.81h-1.8M542.6 69.53h1.8M759.4000000000001 69.53h-1.8M542.6 63.25h3.0M759.4000000000001 63.25h-3.0M542.6 56.97h1.8M759.4000000000001 56.97h-1.8M542.6 50.69h1.8M759.4000000000001 50.69h-1.8M542.6 44.41h1.8M759.4000000000001 44.41h-1.8M542.6 38.13h3.0M759.4000000000001 38.13h-3.0M542.6 31.84h1.8M759.4000000000001 31.84h-1.8M542.6 25.56h1.8M759.4000000000001 25.56h-1.8M542.6 19.28h1.8M759.4000000000001 19.28h-1.8" stroke="#333" stroke-width="0.9" fill="none"/><path d="M559.2 28.6h11.6M565.0 22.900000000000002v11.7" stroke="#d81b60" stroke-width="1.8" stroke-opacity="0.55"/><circle cx="565.0" cy="28.6" r="2.15" fill="#d81b60"/><g class="t"><text x="88.86" y="224.0" font-size="11.5" text-anchor="middle">2</text><text x="150.80" y="224.0" font-size="11.5" text-anchor="middle">4</text><text x="212.74" y="224.0" font-size="11.5" text-anchor="middle">6</text><text x="81.60" y="239.6" font-size="16" textLength="139.4" lengthAdjust="spacingAndGlyphs">Observed Energy [keV]</text><text x="44.1" y="10.0" font-size="13.2" textLength="212.5" lengthAdjust="spacingAndGlyphs">Optimal calibration, Fit without ALPs</text><text x="86.0" y="33.0" font-size="11.6" font-style="italic" textLength="8.8" lengthAdjust="spacingAndGlyphs">C</text><text x="95.4" y="35.0" font-size="15.5">/</text><text x="100.5" y="33.0" font-size="11.6" textLength="24.4" lengthAdjust="spacingAndGlyphs">DOF</text><text x="127.7" y="33.0" font-size="11.6" textLength="10.2" lengthAdjust="spacingAndGlyphs">=</text><text x="140.2" y="33.0" font-size="11.6" textLength="95.9" lengthAdjust="spacingAndGlyphs">28 370/27 964 (1.01)</text><text x="338.96" y="224.0" font-size="11.5" text-anchor="middle">2</text><text x="400.90" y="224.0" font-size="11.5" text-anchor="middle">4</text><text x="462.84" y="224.0" font-size="11.5" text-anchor="middle">6</text><text x="331.70" y="239.6" font-size="16" textLength="139.4" lengthAdjust="spacingAndGlyphs">Observed Energy [keV]</text><text x="284.3" y="10.0" font-size="13.2" textLength="234.8" lengthAdjust="spacingAndGlyphs">Conservative calibration, Fit without ALPs</text><text x="336.1" y="33.0" font-size="11.6" font-style="italic" textLength="8.8" lengthAdjust="spacingAndGlyphs">C</text><text x="345.5" y="35.0" font-size="15.5">/</text><text x="350.6" y="33.0" font-size="11.6" textLength="24.4" lengthAdjust="spacingAndGlyphs">DOF</text><text x="377.8" y="33.0" font-size="11.6" textLength="10.2" lengthAdjust="spacingAndGlyphs">=</text><text x="390.3" y="33.0" font-size="11.6" textLength="95.9" lengthAdjust="spacingAndGlyphs">28 887/27 964 (1.03)</text><text x="589.06" y="224.0" font-size="11.5" text-anchor="middle">2</text><text x="651.00" y="224.0" font-size="11.5" text-anchor="middle">4</text><text x="712.94" y="224.0" font-size="11.5" text-anchor="middle">6</text><text x="581.80" y="239.6" font-size="16" textLength="139.4" lengthAdjust="spacingAndGlyphs">Observed Energy [keV]</text><text x="553.8" y="10.0" font-size="13.2" textLength="194.7" lengthAdjust="spacingAndGlyphs">Optimal calibration, Fit with ALPs</text><text x="586.2" y="33.0" font-size="11.6" font-style="italic" textLength="8.8" lengthAdjust="spacingAndGlyphs">C</text><text x="595.6" y="35.0" font-size="15.5">/</text><text x="600.7" y="33.0" font-size="11.6" textLength="24.4" lengthAdjust="spacingAndGlyphs">DOF</text><text x="627.9" y="33.0" font-size="11.6" textLength="10.2" lengthAdjust="spacingAndGlyphs">=</text><text x="640.4" y="33.0" font-size="11.6" textLength="95.9" lengthAdjust="spacingAndGlyphs">28 670/27 964 (1.03)</text><text x="40.2" y="218.00" font-size="11.5" text-anchor="end" textLength="22.6" lengthAdjust="spacingAndGlyphs">0.900</text><text x="40.2" y="192.88" font-size="11.5" text-anchor="end" textLength="22.6" lengthAdjust="spacingAndGlyphs">0.925</text><text x="40.2" y="167.75" font-size="11.5" text-anchor="end" textLength="22.6" lengthAdjust="spacingAndGlyphs">0.950</text><text x="40.2" y="142.62" font-size="11.5" text-anchor="end" textLength="22.6" lengthAdjust="spacingAndGlyphs">0.975</text><text x="40.2" y="117.50" font-size="11.5" text-anchor="end" textLength="22.6" lengthAdjust="spacingAndGlyphs">1.000</text><text x="40.2" y="92.38" font-size="11.5" text-anchor="end" textLength="22.6" lengthAdjust="spacingAndGlyphs">1.025</text><text x="40.2" y="67.25" font-size="11.5" text-anchor="end" textLength="22.6" lengthAdjust="spacingAndGlyphs">1.050</text><text x="40.2" y="42.13" font-size="11.5" text-anchor="end" textLength="22.6" lengthAdjust="spacingAndGlyphs">1.075</text><text x="40.2" y="17.00" font-size="11.5" text-anchor="end" textLength="22.6" lengthAdjust="spacingAndGlyphs">1.100</text><text transform="translate(11.8,149.4) rotate(-90)" font-size="15.5" textLength="73" lengthAdjust="spacingAndGlyphs">Data/Model</text></g></svg></body></html>
